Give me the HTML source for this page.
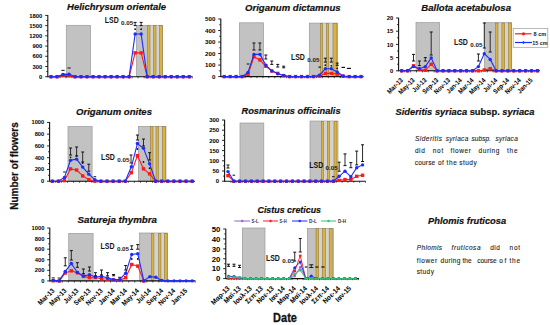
<!DOCTYPE html>
<html><head><meta charset="utf-8"><style>
html,body{margin:0;padding:0;background:#fff;width:550px;height:325px;overflow:hidden}
svg{display:block;font-family:"Liberation Sans", sans-serif}
</style></head><body>
<svg width="550" height="325" viewBox="0 0 550 325">
<rect width="550" height="325" fill="#fff"/>
<text x="67.1" y="10.3" font-size="9.8" font-weight="bold" font-style="italic" text-anchor="start" fill="#111" textLength="99" lengthAdjust="spacingAndGlyphs" stroke="#111" stroke-width="0.2">Helichrysum orientale</text>
<rect x="66.3" y="25.3" width="24.2" height="51.4" fill="#c2c2c2" stroke="#9a9a9a" stroke-width="0.7"/>
<rect x="136.3" y="25.3" width="26.3" height="51.4" fill="#c2c2c2" stroke="#9a9a9a" stroke-width="0.7"/>
<rect x="147.4" y="25.7" width="14.9" height="51" fill="#d2d2d2"/>
<rect x="147.4" y="25.6" width="2.6" height="51.1" fill="#d9b243" stroke="#8f7530" stroke-width="0.55"/>
<rect x="153.4" y="25.6" width="2.6" height="51.1" fill="#d9b243" stroke="#8f7530" stroke-width="0.55"/>
<rect x="159.5" y="25.6" width="2.9" height="51.1" fill="#d9b243" stroke="#8f7530" stroke-width="0.55"/>
<line x1="47.8" y1="15.1" x2="47.8" y2="77.2" stroke="#111" stroke-width="1.1"/>
<line x1="45.2" y1="76.7" x2="47.8" y2="76.7" stroke="#111" stroke-width="0.9"/>
<text x="42.4" y="78.82" font-size="5.9" font-weight="bold" font-style="normal" text-anchor="end" fill="#000">0</text>
<line x1="46.2" y1="71.59" x2="47.8" y2="71.59" stroke="#111" stroke-width="0.8"/>
<line x1="45.2" y1="66.48" x2="47.8" y2="66.48" stroke="#111" stroke-width="0.9"/>
<text x="42.4" y="68.61" font-size="5.9" font-weight="bold" font-style="normal" text-anchor="end" fill="#000">300</text>
<line x1="46.2" y1="61.38" x2="47.8" y2="61.38" stroke="#111" stroke-width="0.8"/>
<line x1="45.2" y1="56.27" x2="47.8" y2="56.27" stroke="#111" stroke-width="0.9"/>
<text x="42.4" y="58.39" font-size="5.9" font-weight="bold" font-style="normal" text-anchor="end" fill="#000">600</text>
<line x1="46.2" y1="51.16" x2="47.8" y2="51.16" stroke="#111" stroke-width="0.8"/>
<line x1="45.2" y1="46.05" x2="47.8" y2="46.05" stroke="#111" stroke-width="0.9"/>
<text x="42.4" y="48.17" font-size="5.9" font-weight="bold" font-style="normal" text-anchor="end" fill="#000">900</text>
<line x1="46.2" y1="40.94" x2="47.8" y2="40.94" stroke="#111" stroke-width="0.8"/>
<line x1="45.2" y1="35.83" x2="47.8" y2="35.83" stroke="#111" stroke-width="0.9"/>
<text x="42.4" y="37.96" font-size="5.9" font-weight="bold" font-style="normal" text-anchor="end" fill="#000">1200</text>
<line x1="46.2" y1="30.73" x2="47.8" y2="30.73" stroke="#111" stroke-width="0.8"/>
<line x1="45.2" y1="25.62" x2="47.8" y2="25.62" stroke="#111" stroke-width="0.9"/>
<text x="42.4" y="27.74" font-size="5.9" font-weight="bold" font-style="normal" text-anchor="end" fill="#000">1500</text>
<line x1="46.2" y1="20.51" x2="47.8" y2="20.51" stroke="#111" stroke-width="0.8"/>
<line x1="45.2" y1="15.4" x2="47.8" y2="15.4" stroke="#111" stroke-width="0.9"/>
<text x="42.4" y="17.52" font-size="5.9" font-weight="bold" font-style="normal" text-anchor="end" fill="#000">1800</text>
<line x1="47.8" y1="76.7" x2="192.5" y2="76.7" stroke="#111" stroke-width="1.1"/>
<line x1="54.01" y1="76.7" x2="54.01" y2="78.3" stroke="#111" stroke-width="0.7"/>
<line x1="60.02" y1="76.7" x2="60.02" y2="78.3" stroke="#111" stroke-width="0.7"/>
<line x1="66.02" y1="76.7" x2="66.02" y2="78.3" stroke="#111" stroke-width="0.7"/>
<line x1="72.03" y1="76.7" x2="72.03" y2="78.3" stroke="#111" stroke-width="0.7"/>
<line x1="78.04" y1="76.7" x2="78.04" y2="78.3" stroke="#111" stroke-width="0.7"/>
<line x1="84.05" y1="76.7" x2="84.05" y2="78.3" stroke="#111" stroke-width="0.7"/>
<line x1="90.06" y1="76.7" x2="90.06" y2="78.3" stroke="#111" stroke-width="0.7"/>
<line x1="96.07" y1="76.7" x2="96.07" y2="78.3" stroke="#111" stroke-width="0.7"/>
<line x1="102.08" y1="76.7" x2="102.08" y2="78.3" stroke="#111" stroke-width="0.7"/>
<line x1="108.09" y1="76.7" x2="108.09" y2="78.3" stroke="#111" stroke-width="0.7"/>
<line x1="114.1" y1="76.7" x2="114.1" y2="78.3" stroke="#111" stroke-width="0.7"/>
<line x1="120.11" y1="76.7" x2="120.11" y2="78.3" stroke="#111" stroke-width="0.7"/>
<line x1="126.12" y1="76.7" x2="126.12" y2="78.3" stroke="#111" stroke-width="0.7"/>
<line x1="132.13" y1="76.7" x2="132.13" y2="78.3" stroke="#111" stroke-width="0.7"/>
<line x1="138.14" y1="76.7" x2="138.14" y2="78.3" stroke="#111" stroke-width="0.7"/>
<line x1="144.15" y1="76.7" x2="144.15" y2="78.3" stroke="#111" stroke-width="0.7"/>
<line x1="150.16" y1="76.7" x2="150.16" y2="78.3" stroke="#111" stroke-width="0.7"/>
<line x1="156.18" y1="76.7" x2="156.18" y2="78.3" stroke="#111" stroke-width="0.7"/>
<line x1="162.19" y1="76.7" x2="162.19" y2="78.3" stroke="#111" stroke-width="0.7"/>
<line x1="168.19" y1="76.7" x2="168.19" y2="78.3" stroke="#111" stroke-width="0.7"/>
<line x1="174.2" y1="76.7" x2="174.2" y2="78.3" stroke="#111" stroke-width="0.7"/>
<line x1="180.21" y1="76.7" x2="180.21" y2="78.3" stroke="#111" stroke-width="0.7"/>
<line x1="186.22" y1="76.7" x2="186.22" y2="78.3" stroke="#111" stroke-width="0.7"/>
<line x1="192.23" y1="76.7" x2="192.23" y2="78.3" stroke="#111" stroke-width="0.7"/>
<polyline points="51,76.7 57.01,76.7 63.02,75.17 69.03,75.68 75.04,76.7 81.05,76.7 87.06,76.7 93.07,76.7 99.08,76.7 105.09,76.7 111.1,76.7 117.11,76.7 123.12,76.7 129.13,76.7 135.14,52.86 141.15,52.86 147.16,76.7 153.17,76.7 159.18,76.7 165.19,76.7 171.2,76.7 177.21,76.7 183.22,76.7 189.23,76.7" fill="none" stroke="#ff1a1a" stroke-width="1.1"/>
<rect x="49.3" y="75" width="3.4" height="3.4" fill="#ff1a1a"/>
<rect x="55.31" y="75" width="3.4" height="3.4" fill="#ff1a1a"/>
<rect x="61.32" y="73.47" width="3.4" height="3.4" fill="#ff1a1a"/>
<rect x="67.33" y="73.98" width="3.4" height="3.4" fill="#ff1a1a"/>
<rect x="73.34" y="75" width="3.4" height="3.4" fill="#ff1a1a"/>
<rect x="79.35" y="75" width="3.4" height="3.4" fill="#ff1a1a"/>
<rect x="85.36" y="75" width="3.4" height="3.4" fill="#ff1a1a"/>
<rect x="91.37" y="75" width="3.4" height="3.4" fill="#ff1a1a"/>
<rect x="97.38" y="75" width="3.4" height="3.4" fill="#ff1a1a"/>
<rect x="103.39" y="75" width="3.4" height="3.4" fill="#ff1a1a"/>
<rect x="109.4" y="75" width="3.4" height="3.4" fill="#ff1a1a"/>
<rect x="115.41" y="75" width="3.4" height="3.4" fill="#ff1a1a"/>
<rect x="121.42" y="75" width="3.4" height="3.4" fill="#ff1a1a"/>
<rect x="127.43" y="75" width="3.4" height="3.4" fill="#ff1a1a"/>
<rect x="133.44" y="51.16" width="3.4" height="3.4" fill="#ff1a1a"/>
<rect x="139.45" y="51.16" width="3.4" height="3.4" fill="#ff1a1a"/>
<rect x="145.46" y="75" width="3.4" height="3.4" fill="#ff1a1a"/>
<rect x="151.47" y="75" width="3.4" height="3.4" fill="#ff1a1a"/>
<rect x="157.48" y="75" width="3.4" height="3.4" fill="#ff1a1a"/>
<rect x="163.49" y="75" width="3.4" height="3.4" fill="#ff1a1a"/>
<rect x="169.5" y="75" width="3.4" height="3.4" fill="#ff1a1a"/>
<rect x="175.51" y="75" width="3.4" height="3.4" fill="#ff1a1a"/>
<rect x="181.52" y="75" width="3.4" height="3.4" fill="#ff1a1a"/>
<rect x="187.53" y="75" width="3.4" height="3.4" fill="#ff1a1a"/>
<polyline points="51,76.7 57.01,76.7 63.02,74.38 69.03,74.15 75.04,76.7 81.05,76.7 87.06,76.7 93.07,76.7 99.08,76.7 105.09,76.7 111.1,76.7 117.11,76.7 123.12,76.7 129.13,76.7 135.14,33.96 141.15,33.96 147.16,76.7 153.17,76.7 159.18,76.7 165.19,76.7 171.2,76.7 177.21,76.7 183.22,76.7 189.23,76.7" fill="none" stroke="#1a2cff" stroke-width="1.1"/>
<circle cx="51" cy="76.7" r="1.7" fill="#1a2cff"/>
<circle cx="57.01" cy="76.7" r="1.7" fill="#1a2cff"/>
<circle cx="63.02" cy="74.38" r="1.7" fill="#1a2cff"/>
<circle cx="69.03" cy="74.15" r="1.7" fill="#1a2cff"/>
<circle cx="75.04" cy="76.7" r="1.7" fill="#1a2cff"/>
<circle cx="81.05" cy="76.7" r="1.7" fill="#1a2cff"/>
<circle cx="87.06" cy="76.7" r="1.7" fill="#1a2cff"/>
<circle cx="93.07" cy="76.7" r="1.7" fill="#1a2cff"/>
<circle cx="99.08" cy="76.7" r="1.7" fill="#1a2cff"/>
<circle cx="105.09" cy="76.7" r="1.7" fill="#1a2cff"/>
<circle cx="111.1" cy="76.7" r="1.7" fill="#1a2cff"/>
<circle cx="117.11" cy="76.7" r="1.7" fill="#1a2cff"/>
<circle cx="123.12" cy="76.7" r="1.7" fill="#1a2cff"/>
<circle cx="129.13" cy="76.7" r="1.7" fill="#1a2cff"/>
<circle cx="135.14" cy="33.96" r="1.7" fill="#1a2cff"/>
<circle cx="141.15" cy="33.96" r="1.7" fill="#1a2cff"/>
<circle cx="147.16" cy="76.7" r="1.7" fill="#1a2cff"/>
<circle cx="153.17" cy="76.7" r="1.7" fill="#1a2cff"/>
<circle cx="159.18" cy="76.7" r="1.7" fill="#1a2cff"/>
<circle cx="165.19" cy="76.7" r="1.7" fill="#1a2cff"/>
<circle cx="171.2" cy="76.7" r="1.7" fill="#1a2cff"/>
<circle cx="177.21" cy="76.7" r="1.7" fill="#1a2cff"/>
<circle cx="183.22" cy="76.7" r="1.7" fill="#1a2cff"/>
<circle cx="189.23" cy="76.7" r="1.7" fill="#1a2cff"/>
<line x1="61.42" y1="70.4" x2="64.62" y2="70.4" stroke="#222" stroke-width="1.1"/>
<line x1="67.43" y1="68" x2="70.63" y2="68" stroke="#222" stroke-width="1.1"/>
<line x1="135.14" y1="22.4" x2="135.14" y2="25.6" stroke="#2a2a2a" stroke-width="1"/>
<line x1="133.64" y1="22.4" x2="136.64" y2="22.4" stroke="#111" stroke-width="1"/>
<line x1="133.64" y1="25.6" x2="136.64" y2="25.6" stroke="#111" stroke-width="1"/>
<line x1="141.15" y1="22.4" x2="141.15" y2="25.6" stroke="#2a2a2a" stroke-width="1"/>
<line x1="139.65" y1="22.4" x2="142.65" y2="22.4" stroke="#111" stroke-width="1"/>
<line x1="139.65" y1="25.6" x2="142.65" y2="25.6" stroke="#111" stroke-width="1"/>
<circle cx="135.14" cy="29.2" r="0.9" fill="#111"/>
<circle cx="141.15" cy="29.2" r="0.9" fill="#111"/>
<text x="104.7" y="23.2" font-size="8.3" font-weight="bold" font-style="normal" text-anchor="start" fill="#111" textLength="14" lengthAdjust="spacingAndGlyphs">LSD</text>
<text x="121.1" y="25.4" font-size="5.9" font-weight="bold" font-style="normal" text-anchor="start" fill="#1a1a1a" textLength="12.2" lengthAdjust="spacingAndGlyphs">0.05</text>
<text x="245" y="10.8" font-size="9.8" font-weight="bold" font-style="italic" text-anchor="start" fill="#111" textLength="95.6" lengthAdjust="spacingAndGlyphs" stroke="#111" stroke-width="0.2">Origanum dictamnus</text>
<rect x="239.4" y="22.8" width="24.2" height="53.8" fill="#c2c2c2" stroke="#9a9a9a" stroke-width="0.7"/>
<rect x="309.3" y="23.1" width="28.3" height="53.5" fill="#c2c2c2" stroke="#9a9a9a" stroke-width="0.7"/>
<rect x="320.5" y="23.5" width="16.8" height="53.1" fill="#d2d2d2"/>
<rect x="320.5" y="23.4" width="2.1" height="53.2" fill="#d9b243" stroke="#8f7530" stroke-width="0.55"/>
<rect x="326.5" y="23.4" width="2.1" height="53.2" fill="#d9b243" stroke="#8f7530" stroke-width="0.55"/>
<rect x="333" y="23.4" width="4" height="53.2" fill="#d9b243" stroke="#8f7530" stroke-width="0.55"/>
<line x1="220.8" y1="18.7" x2="220.8" y2="77.1" stroke="#111" stroke-width="1.1"/>
<line x1="218.2" y1="76.6" x2="220.8" y2="76.6" stroke="#111" stroke-width="0.9"/>
<text x="215.4" y="78.83" font-size="6.2" font-weight="bold" font-style="normal" text-anchor="end" fill="#000">0</text>
<line x1="219.2" y1="70.84" x2="220.8" y2="70.84" stroke="#111" stroke-width="0.8"/>
<line x1="218.2" y1="65.08" x2="220.8" y2="65.08" stroke="#111" stroke-width="0.9"/>
<text x="215.4" y="67.31" font-size="6.2" font-weight="bold" font-style="normal" text-anchor="end" fill="#000">100</text>
<line x1="219.2" y1="59.32" x2="220.8" y2="59.32" stroke="#111" stroke-width="0.8"/>
<line x1="218.2" y1="53.56" x2="220.8" y2="53.56" stroke="#111" stroke-width="0.9"/>
<text x="215.4" y="55.79" font-size="6.2" font-weight="bold" font-style="normal" text-anchor="end" fill="#000">200</text>
<line x1="219.2" y1="47.8" x2="220.8" y2="47.8" stroke="#111" stroke-width="0.8"/>
<line x1="218.2" y1="42.04" x2="220.8" y2="42.04" stroke="#111" stroke-width="0.9"/>
<text x="215.4" y="44.27" font-size="6.2" font-weight="bold" font-style="normal" text-anchor="end" fill="#000">300</text>
<line x1="219.2" y1="36.28" x2="220.8" y2="36.28" stroke="#111" stroke-width="0.8"/>
<line x1="218.2" y1="30.52" x2="220.8" y2="30.52" stroke="#111" stroke-width="0.9"/>
<text x="215.4" y="32.75" font-size="6.2" font-weight="bold" font-style="normal" text-anchor="end" fill="#000">400</text>
<line x1="219.2" y1="24.76" x2="220.8" y2="24.76" stroke="#111" stroke-width="0.8"/>
<line x1="218.2" y1="19" x2="220.8" y2="19" stroke="#111" stroke-width="0.9"/>
<text x="215.4" y="21.23" font-size="6.2" font-weight="bold" font-style="normal" text-anchor="end" fill="#000">500</text>
<line x1="220.8" y1="76.6" x2="363.6" y2="76.6" stroke="#111" stroke-width="1.1"/>
<line x1="227.17" y1="76.6" x2="227.17" y2="78.2" stroke="#111" stroke-width="0.7"/>
<line x1="233.12" y1="76.6" x2="233.12" y2="78.2" stroke="#111" stroke-width="0.7"/>
<line x1="239.07" y1="76.6" x2="239.07" y2="78.2" stroke="#111" stroke-width="0.7"/>
<line x1="245.02" y1="76.6" x2="245.02" y2="78.2" stroke="#111" stroke-width="0.7"/>
<line x1="250.97" y1="76.6" x2="250.97" y2="78.2" stroke="#111" stroke-width="0.7"/>
<line x1="256.93" y1="76.6" x2="256.93" y2="78.2" stroke="#111" stroke-width="0.7"/>
<line x1="262.88" y1="76.6" x2="262.88" y2="78.2" stroke="#111" stroke-width="0.7"/>
<line x1="268.82" y1="76.6" x2="268.82" y2="78.2" stroke="#111" stroke-width="0.7"/>
<line x1="274.78" y1="76.6" x2="274.78" y2="78.2" stroke="#111" stroke-width="0.7"/>
<line x1="280.73" y1="76.6" x2="280.73" y2="78.2" stroke="#111" stroke-width="0.7"/>
<line x1="286.68" y1="76.6" x2="286.68" y2="78.2" stroke="#111" stroke-width="0.7"/>
<line x1="292.62" y1="76.6" x2="292.62" y2="78.2" stroke="#111" stroke-width="0.7"/>
<line x1="298.58" y1="76.6" x2="298.58" y2="78.2" stroke="#111" stroke-width="0.7"/>
<line x1="304.53" y1="76.6" x2="304.53" y2="78.2" stroke="#111" stroke-width="0.7"/>
<line x1="310.48" y1="76.6" x2="310.48" y2="78.2" stroke="#111" stroke-width="0.7"/>
<line x1="316.43" y1="76.6" x2="316.43" y2="78.2" stroke="#111" stroke-width="0.7"/>
<line x1="322.38" y1="76.6" x2="322.38" y2="78.2" stroke="#111" stroke-width="0.7"/>
<line x1="328.33" y1="76.6" x2="328.33" y2="78.2" stroke="#111" stroke-width="0.7"/>
<line x1="334.28" y1="76.6" x2="334.28" y2="78.2" stroke="#111" stroke-width="0.7"/>
<line x1="340.23" y1="76.6" x2="340.23" y2="78.2" stroke="#111" stroke-width="0.7"/>
<line x1="346.18" y1="76.6" x2="346.18" y2="78.2" stroke="#111" stroke-width="0.7"/>
<line x1="352.12" y1="76.6" x2="352.12" y2="78.2" stroke="#111" stroke-width="0.7"/>
<line x1="358.08" y1="76.6" x2="358.08" y2="78.2" stroke="#111" stroke-width="0.7"/>
<polyline points="224.2,76.6 230.15,76.6 236.1,76.6 242.05,76.6 248,74.3 253.95,56.79 259.9,59.9 265.85,66.23 271.8,71.07 277.75,73.37 283.7,75.68 289.65,76.6 295.6,76.6 301.55,76.6 307.5,76.6 313.45,76.6 319.4,76.14 325.35,73.37 331.3,73.37 337.25,74.07 343.2,76.25 349.15,76.6 355.1,76.6 361.05,76.6" fill="none" stroke="#ff1a1a" stroke-width="1.1"/>
<rect x="222.5" y="74.9" width="3.4" height="3.4" fill="#ff1a1a"/>
<rect x="228.45" y="74.9" width="3.4" height="3.4" fill="#ff1a1a"/>
<rect x="234.4" y="74.9" width="3.4" height="3.4" fill="#ff1a1a"/>
<rect x="240.35" y="74.9" width="3.4" height="3.4" fill="#ff1a1a"/>
<rect x="246.3" y="72.6" width="3.4" height="3.4" fill="#ff1a1a"/>
<rect x="252.25" y="55.09" width="3.4" height="3.4" fill="#ff1a1a"/>
<rect x="258.2" y="58.2" width="3.4" height="3.4" fill="#ff1a1a"/>
<rect x="264.15" y="64.53" width="3.4" height="3.4" fill="#ff1a1a"/>
<rect x="270.1" y="69.37" width="3.4" height="3.4" fill="#ff1a1a"/>
<rect x="276.05" y="71.67" width="3.4" height="3.4" fill="#ff1a1a"/>
<rect x="282" y="73.98" width="3.4" height="3.4" fill="#ff1a1a"/>
<rect x="287.95" y="74.9" width="3.4" height="3.4" fill="#ff1a1a"/>
<rect x="293.9" y="74.9" width="3.4" height="3.4" fill="#ff1a1a"/>
<rect x="299.85" y="74.9" width="3.4" height="3.4" fill="#ff1a1a"/>
<rect x="305.8" y="74.9" width="3.4" height="3.4" fill="#ff1a1a"/>
<rect x="311.75" y="74.9" width="3.4" height="3.4" fill="#ff1a1a"/>
<rect x="317.7" y="74.44" width="3.4" height="3.4" fill="#ff1a1a"/>
<rect x="323.65" y="71.67" width="3.4" height="3.4" fill="#ff1a1a"/>
<rect x="329.6" y="71.67" width="3.4" height="3.4" fill="#ff1a1a"/>
<rect x="335.55" y="72.37" width="3.4" height="3.4" fill="#ff1a1a"/>
<rect x="341.5" y="74.55" width="3.4" height="3.4" fill="#ff1a1a"/>
<rect x="347.45" y="74.9" width="3.4" height="3.4" fill="#ff1a1a"/>
<rect x="353.4" y="74.9" width="3.4" height="3.4" fill="#ff1a1a"/>
<rect x="359.35" y="74.9" width="3.4" height="3.4" fill="#ff1a1a"/>
<polyline points="224.2,76.6 230.15,76.6 236.1,76.6 242.05,76.6 248,72.34 253.95,54.37 259.9,54.37 265.85,65.08 271.8,70.84 277.75,73.72 283.7,75.56 289.65,76.6 295.6,76.6 301.55,76.6 307.5,76.6 313.45,76.6 319.4,75.22 325.35,68.77 331.3,68.77 337.25,71.99 343.2,76.02 349.15,76.6 355.1,76.6 361.05,76.6" fill="none" stroke="#1a2cff" stroke-width="1.1"/>
<circle cx="224.2" cy="76.6" r="1.7" fill="#1a2cff"/>
<circle cx="230.15" cy="76.6" r="1.7" fill="#1a2cff"/>
<circle cx="236.1" cy="76.6" r="1.7" fill="#1a2cff"/>
<circle cx="242.05" cy="76.6" r="1.7" fill="#1a2cff"/>
<circle cx="248" cy="72.34" r="1.7" fill="#1a2cff"/>
<circle cx="253.95" cy="54.37" r="1.7" fill="#1a2cff"/>
<circle cx="259.9" cy="54.37" r="1.7" fill="#1a2cff"/>
<circle cx="265.85" cy="65.08" r="1.7" fill="#1a2cff"/>
<circle cx="271.8" cy="70.84" r="1.7" fill="#1a2cff"/>
<circle cx="277.75" cy="73.72" r="1.7" fill="#1a2cff"/>
<circle cx="283.7" cy="75.56" r="1.7" fill="#1a2cff"/>
<circle cx="289.65" cy="76.6" r="1.7" fill="#1a2cff"/>
<circle cx="295.6" cy="76.6" r="1.7" fill="#1a2cff"/>
<circle cx="301.55" cy="76.6" r="1.7" fill="#1a2cff"/>
<circle cx="307.5" cy="76.6" r="1.7" fill="#1a2cff"/>
<circle cx="313.45" cy="76.6" r="1.7" fill="#1a2cff"/>
<circle cx="319.4" cy="75.22" r="1.7" fill="#1a2cff"/>
<circle cx="325.35" cy="68.77" r="1.7" fill="#1a2cff"/>
<circle cx="331.3" cy="68.77" r="1.7" fill="#1a2cff"/>
<circle cx="337.25" cy="71.99" r="1.7" fill="#1a2cff"/>
<circle cx="343.2" cy="76.02" r="1.7" fill="#1a2cff"/>
<circle cx="349.15" cy="76.6" r="1.7" fill="#1a2cff"/>
<circle cx="355.1" cy="76.6" r="1.7" fill="#1a2cff"/>
<circle cx="361.05" cy="76.6" r="1.7" fill="#1a2cff"/>
<line x1="246.6" y1="64" x2="249.4" y2="64" stroke="#222" stroke-width="1.1"/>
<line x1="253.95" y1="43" x2="253.95" y2="50" stroke="#2a2a2a" stroke-width="1"/>
<line x1="252.45" y1="43" x2="255.45" y2="43" stroke="#111" stroke-width="1"/>
<line x1="252.45" y1="50" x2="255.45" y2="50" stroke="#111" stroke-width="1"/>
<line x1="259.9" y1="43" x2="259.9" y2="50" stroke="#2a2a2a" stroke-width="1"/>
<line x1="258.4" y1="43" x2="261.4" y2="43" stroke="#111" stroke-width="1"/>
<line x1="258.4" y1="50" x2="261.4" y2="50" stroke="#111" stroke-width="1"/>
<line x1="265.85" y1="55" x2="265.85" y2="59" stroke="#2a2a2a" stroke-width="1"/>
<line x1="264.35" y1="55" x2="267.35" y2="55" stroke="#111" stroke-width="1"/>
<line x1="264.35" y1="59" x2="267.35" y2="59" stroke="#111" stroke-width="1"/>
<line x1="271.8" y1="61" x2="271.8" y2="64.4" stroke="#2a2a2a" stroke-width="1"/>
<line x1="270.3" y1="61" x2="273.3" y2="61" stroke="#111" stroke-width="1"/>
<line x1="270.3" y1="64.4" x2="273.3" y2="64.4" stroke="#111" stroke-width="1"/>
<line x1="277.75" y1="64.4" x2="277.75" y2="67" stroke="#2a2a2a" stroke-width="1"/>
<line x1="276.25" y1="64.4" x2="279.25" y2="64.4" stroke="#111" stroke-width="1"/>
<line x1="276.25" y1="67" x2="279.25" y2="67" stroke="#111" stroke-width="1"/>
<line x1="283.7" y1="66.2" x2="283.7" y2="67.8" stroke="#2a2a2a" stroke-width="1"/>
<line x1="282.2" y1="66.2" x2="285.2" y2="66.2" stroke="#111" stroke-width="1"/>
<line x1="282.2" y1="67.8" x2="285.2" y2="67.8" stroke="#111" stroke-width="1"/>
<line x1="318.4" y1="67.1" x2="320.8" y2="67.1" stroke="#111" stroke-width="1.2"/>
<line x1="325.35" y1="58.2" x2="325.35" y2="62.1" stroke="#2a2a2a" stroke-width="1"/>
<line x1="323.85" y1="58.2" x2="326.85" y2="58.2" stroke="#111" stroke-width="1"/>
<line x1="323.85" y1="62.1" x2="326.85" y2="62.1" stroke="#111" stroke-width="1"/>
<line x1="331.3" y1="58.2" x2="331.3" y2="62.1" stroke="#2a2a2a" stroke-width="1"/>
<line x1="329.8" y1="58.2" x2="332.8" y2="58.2" stroke="#111" stroke-width="1"/>
<line x1="329.8" y1="62.1" x2="332.8" y2="62.1" stroke="#111" stroke-width="1"/>
<line x1="337.25" y1="63.1" x2="337.25" y2="65.3" stroke="#2a2a2a" stroke-width="1"/>
<line x1="335.75" y1="63.1" x2="338.75" y2="63.1" stroke="#111" stroke-width="1"/>
<line x1="335.75" y1="65.3" x2="338.75" y2="65.3" stroke="#111" stroke-width="1"/>
<line x1="341.5" y1="67.4" x2="345" y2="67.4" stroke="#111" stroke-width="1.2"/>
<line x1="346.9" y1="68.4" x2="351" y2="68.4" stroke="#111" stroke-width="1.2"/>
<circle cx="325.35" cy="65.2" r="0.9" fill="#111"/>
<circle cx="331.3" cy="65.8" r="0.9" fill="#111"/>
<circle cx="337.25" cy="68.3" r="0.9" fill="#111"/>
<text x="290.9" y="60.1" font-size="8.3" font-weight="bold" font-style="normal" text-anchor="start" fill="#111" textLength="14" lengthAdjust="spacingAndGlyphs">LSD</text>
<text x="307.3" y="62.3" font-size="5.9" font-weight="bold" font-style="normal" text-anchor="start" fill="#1a1a1a" textLength="12.2" lengthAdjust="spacingAndGlyphs">0.05</text>
<text x="421.3" y="10.8" font-size="9.8" font-weight="bold" font-style="italic" text-anchor="start" fill="#111" textLength="89.7" lengthAdjust="spacingAndGlyphs" stroke="#111" stroke-width="0.2">Ballota acetabulosa</text>
<rect x="416" y="22.6" width="23.6" height="48.2" fill="#c2c2c2" stroke="#9a9a9a" stroke-width="0.7"/>
<rect x="484.3" y="22.7" width="27.4" height="48.1" fill="#c2c2c2" stroke="#9a9a9a" stroke-width="0.7"/>
<rect x="495.4" y="23.1" width="16" height="47.7" fill="#d2d2d2"/>
<rect x="495.4" y="23" width="2.6" height="47.8" fill="#d9b243" stroke="#8f7530" stroke-width="0.55"/>
<rect x="501.9" y="23" width="2.7" height="47.8" fill="#d9b243" stroke="#8f7530" stroke-width="0.55"/>
<rect x="508.5" y="23" width="3" height="47.8" fill="#d9b243" stroke="#8f7530" stroke-width="0.55"/>
<line x1="398.6" y1="17.7" x2="398.6" y2="71.3" stroke="#111" stroke-width="1.1"/>
<line x1="396" y1="70.8" x2="398.6" y2="70.8" stroke="#111" stroke-width="0.9"/>
<text x="393.2" y="72.92" font-size="5.9" font-weight="bold" font-style="normal" text-anchor="end" fill="#000">0</text>
<line x1="397" y1="64.2" x2="398.6" y2="64.2" stroke="#111" stroke-width="0.8"/>
<line x1="396" y1="57.6" x2="398.6" y2="57.6" stroke="#111" stroke-width="0.9"/>
<text x="393.2" y="59.72" font-size="5.9" font-weight="bold" font-style="normal" text-anchor="end" fill="#000">5</text>
<line x1="397" y1="51" x2="398.6" y2="51" stroke="#111" stroke-width="0.8"/>
<line x1="396" y1="44.4" x2="398.6" y2="44.4" stroke="#111" stroke-width="0.9"/>
<text x="393.2" y="46.52" font-size="5.9" font-weight="bold" font-style="normal" text-anchor="end" fill="#000">10</text>
<line x1="397" y1="37.8" x2="398.6" y2="37.8" stroke="#111" stroke-width="0.8"/>
<line x1="396" y1="31.2" x2="398.6" y2="31.2" stroke="#111" stroke-width="0.9"/>
<text x="393.2" y="33.32" font-size="5.9" font-weight="bold" font-style="normal" text-anchor="end" fill="#000">15</text>
<line x1="397" y1="24.6" x2="398.6" y2="24.6" stroke="#111" stroke-width="0.8"/>
<line x1="396" y1="18" x2="398.6" y2="18" stroke="#111" stroke-width="0.9"/>
<text x="393.2" y="20.12" font-size="5.9" font-weight="bold" font-style="normal" text-anchor="end" fill="#000">20</text>
<line x1="398.6" y1="70.8" x2="540" y2="70.8" stroke="#111" stroke-width="1.1"/>
<line x1="404.65" y1="70.8" x2="404.65" y2="72.4" stroke="#111" stroke-width="0.7"/>
<line x1="410.55" y1="70.8" x2="410.55" y2="72.4" stroke="#111" stroke-width="0.7"/>
<line x1="416.45" y1="70.8" x2="416.45" y2="72.4" stroke="#111" stroke-width="0.7"/>
<line x1="422.35" y1="70.8" x2="422.35" y2="72.4" stroke="#111" stroke-width="0.7"/>
<line x1="428.25" y1="70.8" x2="428.25" y2="72.4" stroke="#111" stroke-width="0.7"/>
<line x1="434.15" y1="70.8" x2="434.15" y2="72.4" stroke="#111" stroke-width="0.7"/>
<line x1="440.05" y1="70.8" x2="440.05" y2="72.4" stroke="#111" stroke-width="0.7"/>
<line x1="445.95" y1="70.8" x2="445.95" y2="72.4" stroke="#111" stroke-width="0.7"/>
<line x1="451.85" y1="70.8" x2="451.85" y2="72.4" stroke="#111" stroke-width="0.7"/>
<line x1="457.75" y1="70.8" x2="457.75" y2="72.4" stroke="#111" stroke-width="0.7"/>
<line x1="463.65" y1="70.8" x2="463.65" y2="72.4" stroke="#111" stroke-width="0.7"/>
<line x1="469.55" y1="70.8" x2="469.55" y2="72.4" stroke="#111" stroke-width="0.7"/>
<line x1="475.45" y1="70.8" x2="475.45" y2="72.4" stroke="#111" stroke-width="0.7"/>
<line x1="481.35" y1="70.8" x2="481.35" y2="72.4" stroke="#111" stroke-width="0.7"/>
<line x1="487.25" y1="70.8" x2="487.25" y2="72.4" stroke="#111" stroke-width="0.7"/>
<line x1="493.15" y1="70.8" x2="493.15" y2="72.4" stroke="#111" stroke-width="0.7"/>
<line x1="499.05" y1="70.8" x2="499.05" y2="72.4" stroke="#111" stroke-width="0.7"/>
<line x1="504.95" y1="70.8" x2="504.95" y2="72.4" stroke="#111" stroke-width="0.7"/>
<line x1="510.85" y1="70.8" x2="510.85" y2="72.4" stroke="#111" stroke-width="0.7"/>
<line x1="516.75" y1="70.8" x2="516.75" y2="72.4" stroke="#111" stroke-width="0.7"/>
<line x1="522.65" y1="70.8" x2="522.65" y2="72.4" stroke="#111" stroke-width="0.7"/>
<line x1="528.55" y1="70.8" x2="528.55" y2="72.4" stroke="#111" stroke-width="0.7"/>
<line x1="534.45" y1="70.8" x2="534.45" y2="72.4" stroke="#111" stroke-width="0.7"/>
<polyline points="401.7,70.8 407.6,70.8 413.5,65.78 419.4,69.48 425.3,70.27 431.2,64.2 437.1,70.8 443,70.8 448.9,70.8 454.8,70.8 460.7,70.8 466.6,70.8 472.5,70.8 478.4,70.8 484.3,70.01 490.2,68.69 496.1,70.8 502,70.8 507.9,70.8 513.8,70.8 519.7,70.8 525.6,70.8 531.5,70.8 537.4,70.8" fill="none" stroke="#ff1a1a" stroke-width="1.1"/>
<rect x="400" y="69.1" width="3.4" height="3.4" fill="#ff1a1a"/>
<rect x="405.9" y="69.1" width="3.4" height="3.4" fill="#ff1a1a"/>
<rect x="411.8" y="64.08" width="3.4" height="3.4" fill="#ff1a1a"/>
<rect x="417.7" y="67.78" width="3.4" height="3.4" fill="#ff1a1a"/>
<rect x="423.6" y="68.57" width="3.4" height="3.4" fill="#ff1a1a"/>
<rect x="429.5" y="62.5" width="3.4" height="3.4" fill="#ff1a1a"/>
<rect x="435.4" y="69.1" width="3.4" height="3.4" fill="#ff1a1a"/>
<rect x="441.3" y="69.1" width="3.4" height="3.4" fill="#ff1a1a"/>
<rect x="447.2" y="69.1" width="3.4" height="3.4" fill="#ff1a1a"/>
<rect x="453.1" y="69.1" width="3.4" height="3.4" fill="#ff1a1a"/>
<rect x="459" y="69.1" width="3.4" height="3.4" fill="#ff1a1a"/>
<rect x="464.9" y="69.1" width="3.4" height="3.4" fill="#ff1a1a"/>
<rect x="470.8" y="69.1" width="3.4" height="3.4" fill="#ff1a1a"/>
<rect x="476.7" y="69.1" width="3.4" height="3.4" fill="#ff1a1a"/>
<rect x="482.6" y="68.31" width="3.4" height="3.4" fill="#ff1a1a"/>
<rect x="488.5" y="66.99" width="3.4" height="3.4" fill="#ff1a1a"/>
<rect x="494.4" y="69.1" width="3.4" height="3.4" fill="#ff1a1a"/>
<rect x="500.3" y="69.1" width="3.4" height="3.4" fill="#ff1a1a"/>
<rect x="506.2" y="69.1" width="3.4" height="3.4" fill="#ff1a1a"/>
<rect x="512.1" y="69.1" width="3.4" height="3.4" fill="#ff1a1a"/>
<rect x="518" y="69.1" width="3.4" height="3.4" fill="#ff1a1a"/>
<rect x="523.9" y="69.1" width="3.4" height="3.4" fill="#ff1a1a"/>
<rect x="529.8" y="69.1" width="3.4" height="3.4" fill="#ff1a1a"/>
<rect x="535.7" y="69.1" width="3.4" height="3.4" fill="#ff1a1a"/>
<polyline points="401.7,70.8 407.6,70.8 413.5,66.58 419.4,68.69 425.3,66.58 431.2,57.86 437.1,70.8 443,70.8 448.9,70.8 454.8,70.8 460.7,70.8 466.6,70.8 472.5,70.8 478.4,66.58 484.3,53.64 490.2,59.45 496.1,70.8 502,70.8 507.9,70.8 513.8,70.8 519.7,70.8 525.6,70.8 531.5,70.8 537.4,70.8" fill="none" stroke="#1a2cff" stroke-width="1.1"/>
<circle cx="401.7" cy="70.8" r="1.7" fill="#1a2cff"/>
<circle cx="407.6" cy="70.8" r="1.7" fill="#1a2cff"/>
<circle cx="413.5" cy="66.58" r="1.7" fill="#1a2cff"/>
<circle cx="419.4" cy="68.69" r="1.7" fill="#1a2cff"/>
<circle cx="425.3" cy="66.58" r="1.7" fill="#1a2cff"/>
<circle cx="431.2" cy="57.86" r="1.7" fill="#1a2cff"/>
<circle cx="437.1" cy="70.8" r="1.7" fill="#1a2cff"/>
<circle cx="443" cy="70.8" r="1.7" fill="#1a2cff"/>
<circle cx="448.9" cy="70.8" r="1.7" fill="#1a2cff"/>
<circle cx="454.8" cy="70.8" r="1.7" fill="#1a2cff"/>
<circle cx="460.7" cy="70.8" r="1.7" fill="#1a2cff"/>
<circle cx="466.6" cy="70.8" r="1.7" fill="#1a2cff"/>
<circle cx="472.5" cy="70.8" r="1.7" fill="#1a2cff"/>
<circle cx="478.4" cy="66.58" r="1.7" fill="#1a2cff"/>
<circle cx="484.3" cy="53.64" r="1.7" fill="#1a2cff"/>
<circle cx="490.2" cy="59.45" r="1.7" fill="#1a2cff"/>
<circle cx="496.1" cy="70.8" r="1.7" fill="#1a2cff"/>
<circle cx="502" cy="70.8" r="1.7" fill="#1a2cff"/>
<circle cx="507.9" cy="70.8" r="1.7" fill="#1a2cff"/>
<circle cx="513.8" cy="70.8" r="1.7" fill="#1a2cff"/>
<circle cx="519.7" cy="70.8" r="1.7" fill="#1a2cff"/>
<circle cx="525.6" cy="70.8" r="1.7" fill="#1a2cff"/>
<circle cx="531.5" cy="70.8" r="1.7" fill="#1a2cff"/>
<circle cx="537.4" cy="70.8" r="1.7" fill="#1a2cff"/>
<line x1="413.5" y1="54.4" x2="413.5" y2="61" stroke="#2a2a2a" stroke-width="1"/>
<line x1="412" y1="54.4" x2="415" y2="54.4" stroke="#111" stroke-width="1"/>
<line x1="412" y1="61" x2="415" y2="61" stroke="#111" stroke-width="1"/>
<line x1="419.4" y1="61" x2="419.4" y2="65.6" stroke="#2a2a2a" stroke-width="1"/>
<line x1="417.9" y1="61" x2="420.9" y2="61" stroke="#111" stroke-width="1"/>
<line x1="417.9" y1="65.6" x2="420.9" y2="65.6" stroke="#111" stroke-width="1"/>
<line x1="425.3" y1="57.6" x2="425.3" y2="61" stroke="#2a2a2a" stroke-width="1"/>
<line x1="423.8" y1="57.6" x2="426.8" y2="57.6" stroke="#111" stroke-width="1"/>
<line x1="423.8" y1="61" x2="426.8" y2="61" stroke="#111" stroke-width="1"/>
<line x1="431.2" y1="32" x2="431.2" y2="55" stroke="#2a2a2a" stroke-width="1"/>
<line x1="429.7" y1="32" x2="432.7" y2="32" stroke="#111" stroke-width="1"/>
<line x1="429.7" y1="55" x2="432.7" y2="55" stroke="#111" stroke-width="1"/>
<line x1="478.4" y1="54" x2="478.4" y2="61" stroke="#2a2a2a" stroke-width="1"/>
<line x1="476.9" y1="54" x2="479.9" y2="54" stroke="#111" stroke-width="1"/>
<line x1="476.9" y1="61" x2="479.9" y2="61" stroke="#111" stroke-width="1"/>
<line x1="484.3" y1="23" x2="484.3" y2="48" stroke="#2a2a2a" stroke-width="1"/>
<line x1="482.8" y1="23" x2="485.8" y2="23" stroke="#111" stroke-width="1"/>
<line x1="482.8" y1="48" x2="485.8" y2="48" stroke="#111" stroke-width="1"/>
<line x1="490.2" y1="32" x2="490.2" y2="52" stroke="#2a2a2a" stroke-width="1"/>
<line x1="488.7" y1="32" x2="491.7" y2="32" stroke="#111" stroke-width="1"/>
<line x1="488.7" y1="52" x2="491.7" y2="52" stroke="#111" stroke-width="1"/>
<text x="453.9" y="44.6" font-size="8.3" font-weight="bold" font-style="normal" text-anchor="start" fill="#111" textLength="14" lengthAdjust="spacingAndGlyphs">LSD</text>
<text x="470.3" y="46.8" font-size="5.9" font-weight="bold" font-style="normal" text-anchor="start" fill="#1a1a1a" textLength="12.2" lengthAdjust="spacingAndGlyphs">0.05</text>
<text transform="translate(403.4,80.6) rotate(-45)" font-size="6.7" font-weight="bold" font-style="normal" text-anchor="end" fill="#000" textLength="19.15" lengthAdjust="spacingAndGlyphs">Mar-13</text>
<text transform="translate(415.2,80.6) rotate(-45)" font-size="6.7" font-weight="bold" font-style="normal" text-anchor="end" fill="#000" textLength="20.14" lengthAdjust="spacingAndGlyphs">May-13</text>
<text transform="translate(427,80.6) rotate(-45)" font-size="6.7" font-weight="bold" font-style="normal" text-anchor="end" fill="#000" textLength="17.17" lengthAdjust="spacingAndGlyphs">Jul-13</text>
<text transform="translate(438.8,80.6) rotate(-45)" font-size="6.7" font-weight="bold" font-style="normal" text-anchor="end" fill="#000" textLength="19.48" lengthAdjust="spacingAndGlyphs">Sep-13</text>
<text transform="translate(450.6,80.6) rotate(-45)" font-size="6.7" font-weight="bold" font-style="normal" text-anchor="end" fill="#000" textLength="19.81" lengthAdjust="spacingAndGlyphs">Nov-13</text>
<text transform="translate(462.4,80.6) rotate(-45)" font-size="6.7" font-weight="bold" font-style="normal" text-anchor="end" fill="#000" textLength="18.82" lengthAdjust="spacingAndGlyphs">Jan-14</text>
<text transform="translate(474.2,80.6) rotate(-45)" font-size="6.7" font-weight="bold" font-style="normal" text-anchor="end" fill="#000" textLength="19.15" lengthAdjust="spacingAndGlyphs">Mar-14</text>
<text transform="translate(486,80.6) rotate(-45)" font-size="6.7" font-weight="bold" font-style="normal" text-anchor="end" fill="#000" textLength="20.14" lengthAdjust="spacingAndGlyphs">May-14</text>
<text transform="translate(497.8,80.6) rotate(-45)" font-size="6.7" font-weight="bold" font-style="normal" text-anchor="end" fill="#000" textLength="17.17" lengthAdjust="spacingAndGlyphs">Jul-14</text>
<text transform="translate(509.6,80.6) rotate(-45)" font-size="6.7" font-weight="bold" font-style="normal" text-anchor="end" fill="#000" textLength="19.48" lengthAdjust="spacingAndGlyphs">Sep-14</text>
<text transform="translate(521.4,80.6) rotate(-45)" font-size="6.7" font-weight="bold" font-style="normal" text-anchor="end" fill="#000" textLength="19.81" lengthAdjust="spacingAndGlyphs">Nov-14</text>
<text transform="translate(533.2,80.6) rotate(-45)" font-size="6.7" font-weight="bold" font-style="normal" text-anchor="end" fill="#000" textLength="18.82" lengthAdjust="spacingAndGlyphs">Jan-15</text>
<rect x="513.2" y="28.5" width="34.6" height="18.8" fill="#fff" stroke="#9a9a9a" stroke-width="0.7"/>
<line x1="515" y1="33.8" x2="531.5" y2="33.8" stroke="#ff1a1a" stroke-width="1.2"/>
<circle cx="523.5" cy="33.8" r="1.6" fill="#ff1a1a"/>
<line x1="515" y1="42.5" x2="532" y2="42.5" stroke="#1a2cff" stroke-width="1.2"/>
<path d="M523.5,40.9 L525.1,42.5 L523.5,44.1 L521.9,42.5 Z" fill="#1a2cff"/>
<text x="533.5" y="36.4" font-size="6" font-weight="bold" font-style="normal" text-anchor="start" fill="#222" textLength="12.7" lengthAdjust="spacingAndGlyphs">8 cm</text>
<text x="532.3" y="44.9" font-size="6" font-weight="bold" font-style="normal" text-anchor="start" fill="#222" textLength="15.4" lengthAdjust="spacingAndGlyphs">15 cm</text>
<text x="76" y="115.2" font-size="9.8" font-weight="bold" font-style="italic" text-anchor="start" fill="#111" textLength="76" lengthAdjust="spacingAndGlyphs" stroke="#111" stroke-width="0.2">Origanum onites</text>
<rect x="68" y="126.5" width="24.1" height="54.7" fill="#c2c2c2" stroke="#9a9a9a" stroke-width="0.7"/>
<rect x="138.4" y="126.4" width="27.6" height="54.8" fill="#c2c2c2" stroke="#9a9a9a" stroke-width="0.7"/>
<rect x="150.6" y="126.8" width="15.1" height="54.4" fill="#d2d2d2"/>
<rect x="150.6" y="126.7" width="2.4" height="54.5" fill="#d9b243" stroke="#8f7530" stroke-width="0.55"/>
<rect x="156" y="126.7" width="2.4" height="54.5" fill="#d9b243" stroke="#8f7530" stroke-width="0.55"/>
<rect x="162.4" y="126.7" width="3" height="54.5" fill="#d9b243" stroke="#8f7530" stroke-width="0.55"/>
<line x1="49.6" y1="122.1" x2="49.6" y2="181.7" stroke="#111" stroke-width="1.1"/>
<line x1="47" y1="181.2" x2="49.6" y2="181.2" stroke="#111" stroke-width="0.9"/>
<text x="44.2" y="183.25" font-size="5.7" font-weight="bold" font-style="normal" text-anchor="end" fill="#000">0</text>
<line x1="48" y1="175.32" x2="49.6" y2="175.32" stroke="#111" stroke-width="0.8"/>
<line x1="47" y1="169.44" x2="49.6" y2="169.44" stroke="#111" stroke-width="0.9"/>
<text x="44.2" y="171.49" font-size="5.7" font-weight="bold" font-style="normal" text-anchor="end" fill="#000">200</text>
<line x1="48" y1="163.56" x2="49.6" y2="163.56" stroke="#111" stroke-width="0.8"/>
<line x1="47" y1="157.68" x2="49.6" y2="157.68" stroke="#111" stroke-width="0.9"/>
<text x="44.2" y="159.73" font-size="5.7" font-weight="bold" font-style="normal" text-anchor="end" fill="#000">400</text>
<line x1="48" y1="151.8" x2="49.6" y2="151.8" stroke="#111" stroke-width="0.8"/>
<line x1="47" y1="145.92" x2="49.6" y2="145.92" stroke="#111" stroke-width="0.9"/>
<text x="44.2" y="147.97" font-size="5.7" font-weight="bold" font-style="normal" text-anchor="end" fill="#000">600</text>
<line x1="48" y1="140.04" x2="49.6" y2="140.04" stroke="#111" stroke-width="0.8"/>
<line x1="47" y1="134.16" x2="49.6" y2="134.16" stroke="#111" stroke-width="0.9"/>
<text x="44.2" y="136.21" font-size="5.7" font-weight="bold" font-style="normal" text-anchor="end" fill="#000">800</text>
<line x1="48" y1="128.28" x2="49.6" y2="128.28" stroke="#111" stroke-width="0.8"/>
<line x1="47" y1="122.4" x2="49.6" y2="122.4" stroke="#111" stroke-width="0.9"/>
<text x="44.2" y="124.45" font-size="5.7" font-weight="bold" font-style="normal" text-anchor="end" fill="#000">1000</text>
<line x1="49.6" y1="181.2" x2="195" y2="181.2" stroke="#111" stroke-width="1.1"/>
<line x1="55.34" y1="181.2" x2="55.34" y2="182.8" stroke="#111" stroke-width="0.7"/>
<line x1="61.42" y1="181.2" x2="61.42" y2="182.8" stroke="#111" stroke-width="0.7"/>
<line x1="67.5" y1="181.2" x2="67.5" y2="182.8" stroke="#111" stroke-width="0.7"/>
<line x1="73.58" y1="181.2" x2="73.58" y2="182.8" stroke="#111" stroke-width="0.7"/>
<line x1="79.66" y1="181.2" x2="79.66" y2="182.8" stroke="#111" stroke-width="0.7"/>
<line x1="85.74" y1="181.2" x2="85.74" y2="182.8" stroke="#111" stroke-width="0.7"/>
<line x1="91.82" y1="181.2" x2="91.82" y2="182.8" stroke="#111" stroke-width="0.7"/>
<line x1="97.9" y1="181.2" x2="97.9" y2="182.8" stroke="#111" stroke-width="0.7"/>
<line x1="103.98" y1="181.2" x2="103.98" y2="182.8" stroke="#111" stroke-width="0.7"/>
<line x1="110.06" y1="181.2" x2="110.06" y2="182.8" stroke="#111" stroke-width="0.7"/>
<line x1="116.14" y1="181.2" x2="116.14" y2="182.8" stroke="#111" stroke-width="0.7"/>
<line x1="122.22" y1="181.2" x2="122.22" y2="182.8" stroke="#111" stroke-width="0.7"/>
<line x1="128.3" y1="181.2" x2="128.3" y2="182.8" stroke="#111" stroke-width="0.7"/>
<line x1="134.38" y1="181.2" x2="134.38" y2="182.8" stroke="#111" stroke-width="0.7"/>
<line x1="140.46" y1="181.2" x2="140.46" y2="182.8" stroke="#111" stroke-width="0.7"/>
<line x1="146.54" y1="181.2" x2="146.54" y2="182.8" stroke="#111" stroke-width="0.7"/>
<line x1="152.62" y1="181.2" x2="152.62" y2="182.8" stroke="#111" stroke-width="0.7"/>
<line x1="158.7" y1="181.2" x2="158.7" y2="182.8" stroke="#111" stroke-width="0.7"/>
<line x1="164.78" y1="181.2" x2="164.78" y2="182.8" stroke="#111" stroke-width="0.7"/>
<line x1="170.86" y1="181.2" x2="170.86" y2="182.8" stroke="#111" stroke-width="0.7"/>
<line x1="176.94" y1="181.2" x2="176.94" y2="182.8" stroke="#111" stroke-width="0.7"/>
<line x1="183.02" y1="181.2" x2="183.02" y2="182.8" stroke="#111" stroke-width="0.7"/>
<line x1="189.1" y1="181.2" x2="189.1" y2="182.8" stroke="#111" stroke-width="0.7"/>
<polyline points="52.3,181.2 58.38,181.2 64.46,180.61 70.54,168.85 76.62,170.03 82.7,175.91 88.78,179.73 94.86,181.2 100.94,181.2 107.02,181.2 113.1,181.2 119.18,181.2 125.26,181.2 131.34,172.67 137.42,155.62 143.5,168.85 149.58,173.85 155.66,181.2 161.74,181.2 167.82,181.2 173.9,181.2 179.98,181.2 186.06,181.2 192.14,181.2" fill="none" stroke="#ff1a1a" stroke-width="1.1"/>
<rect x="50.6" y="179.5" width="3.4" height="3.4" fill="#ff1a1a"/>
<rect x="56.68" y="179.5" width="3.4" height="3.4" fill="#ff1a1a"/>
<rect x="62.76" y="178.91" width="3.4" height="3.4" fill="#ff1a1a"/>
<rect x="68.84" y="167.15" width="3.4" height="3.4" fill="#ff1a1a"/>
<rect x="74.92" y="168.33" width="3.4" height="3.4" fill="#ff1a1a"/>
<rect x="81" y="174.21" width="3.4" height="3.4" fill="#ff1a1a"/>
<rect x="87.08" y="178.03" width="3.4" height="3.4" fill="#ff1a1a"/>
<rect x="93.16" y="179.5" width="3.4" height="3.4" fill="#ff1a1a"/>
<rect x="99.24" y="179.5" width="3.4" height="3.4" fill="#ff1a1a"/>
<rect x="105.32" y="179.5" width="3.4" height="3.4" fill="#ff1a1a"/>
<rect x="111.4" y="179.5" width="3.4" height="3.4" fill="#ff1a1a"/>
<rect x="117.48" y="179.5" width="3.4" height="3.4" fill="#ff1a1a"/>
<rect x="123.56" y="179.5" width="3.4" height="3.4" fill="#ff1a1a"/>
<rect x="129.64" y="170.97" width="3.4" height="3.4" fill="#ff1a1a"/>
<rect x="135.72" y="153.92" width="3.4" height="3.4" fill="#ff1a1a"/>
<rect x="141.8" y="167.15" width="3.4" height="3.4" fill="#ff1a1a"/>
<rect x="147.88" y="172.15" width="3.4" height="3.4" fill="#ff1a1a"/>
<rect x="153.96" y="179.5" width="3.4" height="3.4" fill="#ff1a1a"/>
<rect x="160.04" y="179.5" width="3.4" height="3.4" fill="#ff1a1a"/>
<rect x="166.12" y="179.5" width="3.4" height="3.4" fill="#ff1a1a"/>
<rect x="172.2" y="179.5" width="3.4" height="3.4" fill="#ff1a1a"/>
<rect x="178.28" y="179.5" width="3.4" height="3.4" fill="#ff1a1a"/>
<rect x="184.36" y="179.5" width="3.4" height="3.4" fill="#ff1a1a"/>
<rect x="190.44" y="179.5" width="3.4" height="3.4" fill="#ff1a1a"/>
<polyline points="52.3,181.2 58.38,181.2 64.46,177.38 70.54,160.33 76.62,159.15 82.7,167.09 88.78,174.14 94.86,179.73 100.94,181.2 107.02,181.2 113.1,181.2 119.18,181.2 125.26,181.2 131.34,166.79 137.42,143.57 143.5,148.27 149.58,163.85 155.66,181.2 161.74,181.2 167.82,181.2 173.9,181.2 179.98,181.2 186.06,181.2 192.14,181.2" fill="none" stroke="#1a2cff" stroke-width="1.1"/>
<circle cx="52.3" cy="181.2" r="1.7" fill="#1a2cff"/>
<circle cx="58.38" cy="181.2" r="1.7" fill="#1a2cff"/>
<circle cx="64.46" cy="177.38" r="1.7" fill="#1a2cff"/>
<circle cx="70.54" cy="160.33" r="1.7" fill="#1a2cff"/>
<circle cx="76.62" cy="159.15" r="1.7" fill="#1a2cff"/>
<circle cx="82.7" cy="167.09" r="1.7" fill="#1a2cff"/>
<circle cx="88.78" cy="174.14" r="1.7" fill="#1a2cff"/>
<circle cx="94.86" cy="179.73" r="1.7" fill="#1a2cff"/>
<circle cx="100.94" cy="181.2" r="1.7" fill="#1a2cff"/>
<circle cx="107.02" cy="181.2" r="1.7" fill="#1a2cff"/>
<circle cx="113.1" cy="181.2" r="1.7" fill="#1a2cff"/>
<circle cx="119.18" cy="181.2" r="1.7" fill="#1a2cff"/>
<circle cx="125.26" cy="181.2" r="1.7" fill="#1a2cff"/>
<circle cx="131.34" cy="166.79" r="1.7" fill="#1a2cff"/>
<circle cx="137.42" cy="143.57" r="1.7" fill="#1a2cff"/>
<circle cx="143.5" cy="148.27" r="1.7" fill="#1a2cff"/>
<circle cx="149.58" cy="163.85" r="1.7" fill="#1a2cff"/>
<circle cx="155.66" cy="181.2" r="1.7" fill="#1a2cff"/>
<circle cx="161.74" cy="181.2" r="1.7" fill="#1a2cff"/>
<circle cx="167.82" cy="181.2" r="1.7" fill="#1a2cff"/>
<circle cx="173.9" cy="181.2" r="1.7" fill="#1a2cff"/>
<circle cx="179.98" cy="181.2" r="1.7" fill="#1a2cff"/>
<circle cx="186.06" cy="181.2" r="1.7" fill="#1a2cff"/>
<circle cx="192.14" cy="181.2" r="1.7" fill="#1a2cff"/>
<line x1="63.16" y1="172" x2="65.76" y2="172" stroke="#222" stroke-width="1.1"/>
<line x1="70.54" y1="148" x2="70.54" y2="155" stroke="#2a2a2a" stroke-width="1"/>
<line x1="69.04" y1="148" x2="72.04" y2="148" stroke="#111" stroke-width="1"/>
<line x1="69.04" y1="155" x2="72.04" y2="155" stroke="#111" stroke-width="1"/>
<line x1="76.62" y1="147" x2="76.62" y2="156" stroke="#2a2a2a" stroke-width="1"/>
<line x1="75.12" y1="147" x2="78.12" y2="147" stroke="#111" stroke-width="1"/>
<line x1="75.12" y1="156" x2="78.12" y2="156" stroke="#111" stroke-width="1"/>
<line x1="82.7" y1="152" x2="82.7" y2="162" stroke="#2a2a2a" stroke-width="1"/>
<line x1="81.2" y1="152" x2="84.2" y2="152" stroke="#111" stroke-width="1"/>
<line x1="81.2" y1="162" x2="84.2" y2="162" stroke="#111" stroke-width="1"/>
<line x1="88.78" y1="164.2" x2="88.78" y2="171.2" stroke="#2a2a2a" stroke-width="1"/>
<line x1="87.28" y1="164.2" x2="90.28" y2="164.2" stroke="#111" stroke-width="1"/>
<line x1="87.28" y1="171.2" x2="90.28" y2="171.2" stroke="#111" stroke-width="1"/>
<line x1="93.56" y1="176.7" x2="96.16" y2="176.7" stroke="#222" stroke-width="1.1"/>
<line x1="131.04" y1="155" x2="131.04" y2="163" stroke="#2a2a2a" stroke-width="1"/>
<line x1="129.54" y1="155" x2="132.54" y2="155" stroke="#111" stroke-width="1"/>
<line x1="129.54" y1="163" x2="132.54" y2="163" stroke="#111" stroke-width="1"/>
<line x1="137.42" y1="135" x2="137.42" y2="140" stroke="#2a2a2a" stroke-width="1"/>
<line x1="135.92" y1="135" x2="138.92" y2="135" stroke="#111" stroke-width="1"/>
<line x1="135.92" y1="140" x2="138.92" y2="140" stroke="#111" stroke-width="1"/>
<line x1="143.5" y1="139" x2="143.5" y2="146" stroke="#2a2a2a" stroke-width="1"/>
<line x1="142" y1="139" x2="145" y2="139" stroke="#111" stroke-width="1"/>
<line x1="142" y1="146" x2="145" y2="146" stroke="#111" stroke-width="1"/>
<line x1="149.58" y1="152.7" x2="149.58" y2="160" stroke="#2a2a2a" stroke-width="1"/>
<line x1="148.08" y1="152.7" x2="151.08" y2="152.7" stroke="#111" stroke-width="1"/>
<line x1="148.08" y1="160" x2="151.08" y2="160" stroke="#111" stroke-width="1"/>
<circle cx="70.54" cy="157.3" r="0.9" fill="#111"/>
<circle cx="76.62" cy="155.8" r="0.9" fill="#111"/>
<circle cx="82.7" cy="163" r="0.9" fill="#111"/>
<circle cx="137.42" cy="149" r="0.9" fill="#111"/>
<circle cx="143.5" cy="162" r="0.9" fill="#111"/>
<circle cx="149.58" cy="168.2" r="0.9" fill="#111"/>
<text x="100.9" y="160.1" font-size="8.3" font-weight="bold" font-style="normal" text-anchor="start" fill="#111" textLength="14" lengthAdjust="spacingAndGlyphs">LSD</text>
<text x="117.3" y="162.3" font-size="5.9" font-weight="bold" font-style="normal" text-anchor="start" fill="#1a1a1a" textLength="12.2" lengthAdjust="spacingAndGlyphs">0.05</text>
<text x="241.5" y="114.3" font-size="9.8" font-weight="bold" font-style="italic" text-anchor="start" fill="#111" textLength="99.1" lengthAdjust="spacingAndGlyphs" stroke="#111" stroke-width="0.2">Rosmarinus officinalis</text>
<rect x="240" y="123" width="23.8" height="58.2" fill="#c2c2c2" stroke="#9a9a9a" stroke-width="0.7"/>
<rect x="310" y="121" width="28" height="60.2" fill="#c2c2c2" stroke="#9a9a9a" stroke-width="0.7"/>
<rect x="321.4" y="121.4" width="16.3" height="59.8" fill="#d2d2d2"/>
<rect x="321.4" y="121.3" width="2" height="59.9" fill="#d9b243" stroke="#8f7530" stroke-width="0.55"/>
<rect x="327.4" y="121.3" width="2" height="59.9" fill="#d9b243" stroke="#8f7530" stroke-width="0.55"/>
<rect x="334" y="121.3" width="3" height="59.9" fill="#d9b243" stroke="#8f7530" stroke-width="0.55"/>
<line x1="224.6" y1="119.7" x2="224.6" y2="181.7" stroke="#111" stroke-width="1.1"/>
<line x1="222" y1="181.2" x2="224.6" y2="181.2" stroke="#111" stroke-width="0.9"/>
<text x="219.2" y="183.36" font-size="6" font-weight="bold" font-style="normal" text-anchor="end" fill="#000">0</text>
<line x1="223" y1="176.1" x2="224.6" y2="176.1" stroke="#111" stroke-width="0.8"/>
<line x1="222" y1="171" x2="224.6" y2="171" stroke="#111" stroke-width="0.9"/>
<text x="219.2" y="173.16" font-size="6" font-weight="bold" font-style="normal" text-anchor="end" fill="#000">50</text>
<line x1="223" y1="165.9" x2="224.6" y2="165.9" stroke="#111" stroke-width="0.8"/>
<line x1="222" y1="160.8" x2="224.6" y2="160.8" stroke="#111" stroke-width="0.9"/>
<text x="219.2" y="162.96" font-size="6" font-weight="bold" font-style="normal" text-anchor="end" fill="#000">100</text>
<line x1="223" y1="155.7" x2="224.6" y2="155.7" stroke="#111" stroke-width="0.8"/>
<line x1="222" y1="150.6" x2="224.6" y2="150.6" stroke="#111" stroke-width="0.9"/>
<text x="219.2" y="152.76" font-size="6" font-weight="bold" font-style="normal" text-anchor="end" fill="#000">150</text>
<line x1="223" y1="145.5" x2="224.6" y2="145.5" stroke="#111" stroke-width="0.8"/>
<line x1="222" y1="140.4" x2="224.6" y2="140.4" stroke="#111" stroke-width="0.9"/>
<text x="219.2" y="142.56" font-size="6" font-weight="bold" font-style="normal" text-anchor="end" fill="#000">200</text>
<line x1="223" y1="135.3" x2="224.6" y2="135.3" stroke="#111" stroke-width="0.8"/>
<line x1="222" y1="130.2" x2="224.6" y2="130.2" stroke="#111" stroke-width="0.9"/>
<text x="219.2" y="132.36" font-size="6" font-weight="bold" font-style="normal" text-anchor="end" fill="#000">250</text>
<line x1="223" y1="125.1" x2="224.6" y2="125.1" stroke="#111" stroke-width="0.8"/>
<line x1="222" y1="120" x2="224.6" y2="120" stroke="#111" stroke-width="0.9"/>
<text x="219.2" y="122.16" font-size="6" font-weight="bold" font-style="normal" text-anchor="end" fill="#000">300</text>
<line x1="224.6" y1="181.2" x2="365.6" y2="181.2" stroke="#111" stroke-width="1.1"/>
<line x1="230.93" y1="181.2" x2="230.93" y2="182.8" stroke="#111" stroke-width="0.7"/>
<line x1="236.78" y1="181.2" x2="236.78" y2="182.8" stroke="#111" stroke-width="0.7"/>
<line x1="242.62" y1="181.2" x2="242.62" y2="182.8" stroke="#111" stroke-width="0.7"/>
<line x1="248.48" y1="181.2" x2="248.48" y2="182.8" stroke="#111" stroke-width="0.7"/>
<line x1="254.33" y1="181.2" x2="254.33" y2="182.8" stroke="#111" stroke-width="0.7"/>
<line x1="260.18" y1="181.2" x2="260.18" y2="182.8" stroke="#111" stroke-width="0.7"/>
<line x1="266.03" y1="181.2" x2="266.03" y2="182.8" stroke="#111" stroke-width="0.7"/>
<line x1="271.88" y1="181.2" x2="271.88" y2="182.8" stroke="#111" stroke-width="0.7"/>
<line x1="277.73" y1="181.2" x2="277.73" y2="182.8" stroke="#111" stroke-width="0.7"/>
<line x1="283.57" y1="181.2" x2="283.57" y2="182.8" stroke="#111" stroke-width="0.7"/>
<line x1="289.43" y1="181.2" x2="289.43" y2="182.8" stroke="#111" stroke-width="0.7"/>
<line x1="295.28" y1="181.2" x2="295.28" y2="182.8" stroke="#111" stroke-width="0.7"/>
<line x1="301.12" y1="181.2" x2="301.12" y2="182.8" stroke="#111" stroke-width="0.7"/>
<line x1="306.98" y1="181.2" x2="306.98" y2="182.8" stroke="#111" stroke-width="0.7"/>
<line x1="312.82" y1="181.2" x2="312.82" y2="182.8" stroke="#111" stroke-width="0.7"/>
<line x1="318.68" y1="181.2" x2="318.68" y2="182.8" stroke="#111" stroke-width="0.7"/>
<line x1="324.53" y1="181.2" x2="324.53" y2="182.8" stroke="#111" stroke-width="0.7"/>
<line x1="330.38" y1="181.2" x2="330.38" y2="182.8" stroke="#111" stroke-width="0.7"/>
<line x1="336.23" y1="181.2" x2="336.23" y2="182.8" stroke="#111" stroke-width="0.7"/>
<line x1="342.07" y1="181.2" x2="342.07" y2="182.8" stroke="#111" stroke-width="0.7"/>
<line x1="347.93" y1="181.2" x2="347.93" y2="182.8" stroke="#111" stroke-width="0.7"/>
<line x1="353.78" y1="181.2" x2="353.78" y2="182.8" stroke="#111" stroke-width="0.7"/>
<line x1="359.62" y1="181.2" x2="359.62" y2="182.8" stroke="#111" stroke-width="0.7"/>
<line x1="365.47" y1="181.2" x2="365.47" y2="182.8" stroke="#111" stroke-width="0.7"/>
<polyline points="228,175.69 233.85,181.2 239.7,181.2 245.55,181.2 251.4,181.2 257.25,181.2 263.1,181.2 268.95,181.2 274.8,181.2 280.65,181.2 286.5,181.2 292.35,181.2 298.2,181.2 304.05,181.2 309.9,181.2 315.75,181.2 321.6,181.2 327.45,181.2 333.3,181.2 339.15,180.38 345,179.57 350.85,179.57 356.7,176.3 362.55,175.28" fill="none" stroke="#ff1a1a" stroke-width="1.1"/>
<rect x="226.3" y="173.99" width="3.4" height="3.4" fill="#ff1a1a"/>
<rect x="232.15" y="179.5" width="3.4" height="3.4" fill="#ff1a1a"/>
<rect x="238" y="179.5" width="3.4" height="3.4" fill="#ff1a1a"/>
<rect x="243.85" y="179.5" width="3.4" height="3.4" fill="#ff1a1a"/>
<rect x="249.7" y="179.5" width="3.4" height="3.4" fill="#ff1a1a"/>
<rect x="255.55" y="179.5" width="3.4" height="3.4" fill="#ff1a1a"/>
<rect x="261.4" y="179.5" width="3.4" height="3.4" fill="#ff1a1a"/>
<rect x="267.25" y="179.5" width="3.4" height="3.4" fill="#ff1a1a"/>
<rect x="273.1" y="179.5" width="3.4" height="3.4" fill="#ff1a1a"/>
<rect x="278.95" y="179.5" width="3.4" height="3.4" fill="#ff1a1a"/>
<rect x="284.8" y="179.5" width="3.4" height="3.4" fill="#ff1a1a"/>
<rect x="290.65" y="179.5" width="3.4" height="3.4" fill="#ff1a1a"/>
<rect x="296.5" y="179.5" width="3.4" height="3.4" fill="#ff1a1a"/>
<rect x="302.35" y="179.5" width="3.4" height="3.4" fill="#ff1a1a"/>
<rect x="308.2" y="179.5" width="3.4" height="3.4" fill="#ff1a1a"/>
<rect x="314.05" y="179.5" width="3.4" height="3.4" fill="#ff1a1a"/>
<rect x="319.9" y="179.5" width="3.4" height="3.4" fill="#ff1a1a"/>
<rect x="325.75" y="179.5" width="3.4" height="3.4" fill="#ff1a1a"/>
<rect x="331.6" y="179.5" width="3.4" height="3.4" fill="#ff1a1a"/>
<rect x="337.45" y="178.68" width="3.4" height="3.4" fill="#ff1a1a"/>
<rect x="343.3" y="177.87" width="3.4" height="3.4" fill="#ff1a1a"/>
<rect x="349.15" y="177.87" width="3.4" height="3.4" fill="#ff1a1a"/>
<rect x="355" y="174.6" width="3.4" height="3.4" fill="#ff1a1a"/>
<rect x="360.85" y="173.58" width="3.4" height="3.4" fill="#ff1a1a"/>
<polyline points="228,171.61 233.85,181.2 239.7,181.2 245.55,181.2 251.4,181.2 257.25,181.2 263.1,181.2 268.95,181.2 274.8,181.2 280.65,181.2 286.5,181.2 292.35,181.2 298.2,181.2 304.05,181.2 309.9,181.2 315.75,181.2 321.6,181.2 327.45,181.2 333.3,181.2 339.15,176.3 345,171.2 350.85,176.71 356.7,167.74 362.55,164.88" fill="none" stroke="#1a2cff" stroke-width="1.1"/>
<circle cx="228" cy="171.61" r="1.7" fill="#1a2cff"/>
<circle cx="233.85" cy="181.2" r="1.7" fill="#1a2cff"/>
<circle cx="239.7" cy="181.2" r="1.7" fill="#1a2cff"/>
<circle cx="245.55" cy="181.2" r="1.7" fill="#1a2cff"/>
<circle cx="251.4" cy="181.2" r="1.7" fill="#1a2cff"/>
<circle cx="257.25" cy="181.2" r="1.7" fill="#1a2cff"/>
<circle cx="263.1" cy="181.2" r="1.7" fill="#1a2cff"/>
<circle cx="268.95" cy="181.2" r="1.7" fill="#1a2cff"/>
<circle cx="274.8" cy="181.2" r="1.7" fill="#1a2cff"/>
<circle cx="280.65" cy="181.2" r="1.7" fill="#1a2cff"/>
<circle cx="286.5" cy="181.2" r="1.7" fill="#1a2cff"/>
<circle cx="292.35" cy="181.2" r="1.7" fill="#1a2cff"/>
<circle cx="298.2" cy="181.2" r="1.7" fill="#1a2cff"/>
<circle cx="304.05" cy="181.2" r="1.7" fill="#1a2cff"/>
<circle cx="309.9" cy="181.2" r="1.7" fill="#1a2cff"/>
<circle cx="315.75" cy="181.2" r="1.7" fill="#1a2cff"/>
<circle cx="321.6" cy="181.2" r="1.7" fill="#1a2cff"/>
<circle cx="327.45" cy="181.2" r="1.7" fill="#1a2cff"/>
<circle cx="333.3" cy="181.2" r="1.7" fill="#1a2cff"/>
<circle cx="339.15" cy="176.3" r="1.7" fill="#1a2cff"/>
<circle cx="345" cy="171.2" r="1.7" fill="#1a2cff"/>
<circle cx="350.85" cy="176.71" r="1.7" fill="#1a2cff"/>
<circle cx="356.7" cy="167.74" r="1.7" fill="#1a2cff"/>
<circle cx="362.55" cy="164.88" r="1.7" fill="#1a2cff"/>
<line x1="228" y1="165" x2="228" y2="168" stroke="#2a2a2a" stroke-width="1"/>
<line x1="226.5" y1="165" x2="229.5" y2="165" stroke="#111" stroke-width="1"/>
<line x1="226.5" y1="168" x2="229.5" y2="168" stroke="#111" stroke-width="1"/>
<line x1="232.55" y1="175.2" x2="235.15" y2="175.2" stroke="#222" stroke-width="1.1"/>
<line x1="332" y1="176.7" x2="334.6" y2="176.7" stroke="#222" stroke-width="1.1"/>
<line x1="339.15" y1="162.2" x2="339.15" y2="171.2" stroke="#2a2a2a" stroke-width="1"/>
<line x1="337.65" y1="162.2" x2="340.65" y2="162.2" stroke="#111" stroke-width="1"/>
<line x1="337.65" y1="171.2" x2="340.65" y2="171.2" stroke="#111" stroke-width="1"/>
<line x1="345" y1="153.9" x2="345" y2="165.6" stroke="#2a2a2a" stroke-width="1"/>
<line x1="343.5" y1="153.9" x2="346.5" y2="153.9" stroke="#111" stroke-width="1"/>
<line x1="343.5" y1="165.6" x2="346.5" y2="165.6" stroke="#111" stroke-width="1"/>
<line x1="350.85" y1="162.6" x2="350.85" y2="167.7" stroke="#2a2a2a" stroke-width="1"/>
<line x1="349.35" y1="162.6" x2="352.35" y2="162.6" stroke="#111" stroke-width="1"/>
<line x1="349.35" y1="167.7" x2="352.35" y2="167.7" stroke="#111" stroke-width="1"/>
<line x1="356.7" y1="151.1" x2="356.7" y2="164.9" stroke="#2a2a2a" stroke-width="1"/>
<line x1="355.2" y1="151.1" x2="358.2" y2="151.1" stroke="#111" stroke-width="1"/>
<line x1="355.2" y1="164.9" x2="358.2" y2="164.9" stroke="#111" stroke-width="1"/>
<line x1="362.55" y1="144.8" x2="362.55" y2="161.5" stroke="#2a2a2a" stroke-width="1"/>
<line x1="361.05" y1="144.8" x2="364.05" y2="144.8" stroke="#111" stroke-width="1"/>
<line x1="361.05" y1="161.5" x2="364.05" y2="161.5" stroke="#111" stroke-width="1"/>
<text x="309.2" y="168" font-size="8.3" font-weight="bold" font-style="normal" text-anchor="start" fill="#111" textLength="14" lengthAdjust="spacingAndGlyphs">LSD</text>
<text x="325.6" y="170.2" font-size="5.9" font-weight="bold" font-style="normal" text-anchor="start" fill="#1a1a1a" textLength="12.2" lengthAdjust="spacingAndGlyphs">0.05</text>
<text x="395.5" y="114.9" font-size="9.8" font-weight="bold" fill="#111" stroke="#111" stroke-width="0.2" textLength="139" lengthAdjust="spacingAndGlyphs"><tspan font-style="italic">Sideritis syriaca</tspan> subsp. <tspan font-style="italic">syriaca</tspan></text>
<text x="414.9" y="140.6" font-size="6.5" font-style="italic" fill="#1a1a1a" letter-spacing="0.498" stroke="#222" stroke-width="0.1">Sideritis</text>
<text x="445.7" y="140.6" font-size="6.5" font-style="italic" fill="#1a1a1a" letter-spacing="0.335" stroke="#222" stroke-width="0.1">syriaca</text>
<text x="471.5" y="140.6" font-size="6.5" font-style="italic" fill="#1a1a1a" letter-spacing="0.050" stroke="#222" stroke-width="0.1">subsp.</text>
<text x="495.4" y="140.6" font-size="6.5" font-style="italic" fill="#1a1a1a" letter-spacing="0.302" stroke="#222" stroke-width="0.1">syriaca</text>
<text x="414.9" y="153" font-size="6.5" font-style="normal" fill="#1a1a1a" letter-spacing="0.613" stroke="#222" stroke-width="0.1">did</text>
<text x="432.8" y="153" font-size="6.5" font-style="normal" fill="#1a1a1a" letter-spacing="0.682" stroke="#222" stroke-width="0.1">not</text>
<text x="450.6" y="153" font-size="6.5" font-style="normal" fill="#1a1a1a" letter-spacing="0.612" stroke="#222" stroke-width="0.1">flower</text>
<text x="478.6" y="153" font-size="6.5" font-style="normal" fill="#1a1a1a" letter-spacing="0.526" stroke="#222" stroke-width="0.1">during</text>
<text x="507" y="153" font-size="6.5" font-style="normal" fill="#1a1a1a" letter-spacing="0.782" stroke="#222" stroke-width="0.1">the</text>
<text x="414.8" y="165" font-size="6.5" font-style="normal" fill="#1a1a1a" letter-spacing="0.178" stroke="#222" stroke-width="0.1">course</text>
<text x="438.1" y="165" font-size="6.5" font-style="normal" fill="#1a1a1a" letter-spacing="0.279" stroke="#222" stroke-width="0.1">of</text>
<text x="446.6" y="165" font-size="6.5" font-style="normal" fill="#1a1a1a" letter-spacing="0.582" stroke="#222" stroke-width="0.1">the</text>
<text x="459.3" y="165" font-size="6.5" font-style="normal" fill="#1a1a1a" letter-spacing="0.466" stroke="#222" stroke-width="0.1">study</text>
<text x="77.5" y="222.5" font-size="9.8" font-weight="bold" font-style="italic" text-anchor="start" fill="#111" textLength="79.5" lengthAdjust="spacingAndGlyphs" stroke="#111" stroke-width="0.2">Satureja thymbra</text>
<rect x="68.7" y="233.4" width="24.4" height="47.5" fill="#c2c2c2" stroke="#9a9a9a" stroke-width="0.7"/>
<rect x="139.5" y="233" width="27.9" height="47.9" fill="#c2c2c2" stroke="#9a9a9a" stroke-width="0.7"/>
<rect x="151.5" y="233.4" width="15.6" height="47.5" fill="#d2d2d2"/>
<rect x="151.5" y="233.3" width="2.4" height="47.6" fill="#d9b243" stroke="#8f7530" stroke-width="0.55"/>
<rect x="158.5" y="233.3" width="2.4" height="47.6" fill="#d9b243" stroke="#8f7530" stroke-width="0.55"/>
<rect x="164.3" y="233.3" width="2.9" height="47.6" fill="#d9b243" stroke="#8f7530" stroke-width="0.55"/>
<line x1="49.8" y1="227.7" x2="49.8" y2="281.4" stroke="#111" stroke-width="1.1"/>
<line x1="47.2" y1="280.9" x2="49.8" y2="280.9" stroke="#111" stroke-width="0.9"/>
<text x="44.4" y="282.99" font-size="5.8" font-weight="bold" font-style="normal" text-anchor="end" fill="#000">0</text>
<line x1="48.2" y1="275.61" x2="49.8" y2="275.61" stroke="#111" stroke-width="0.8"/>
<line x1="47.2" y1="270.32" x2="49.8" y2="270.32" stroke="#111" stroke-width="0.9"/>
<text x="44.4" y="272.41" font-size="5.8" font-weight="bold" font-style="normal" text-anchor="end" fill="#000">200</text>
<line x1="48.2" y1="265.03" x2="49.8" y2="265.03" stroke="#111" stroke-width="0.8"/>
<line x1="47.2" y1="259.74" x2="49.8" y2="259.74" stroke="#111" stroke-width="0.9"/>
<text x="44.4" y="261.83" font-size="5.8" font-weight="bold" font-style="normal" text-anchor="end" fill="#000">400</text>
<line x1="48.2" y1="254.45" x2="49.8" y2="254.45" stroke="#111" stroke-width="0.8"/>
<line x1="47.2" y1="249.16" x2="49.8" y2="249.16" stroke="#111" stroke-width="0.9"/>
<text x="44.4" y="251.25" font-size="5.8" font-weight="bold" font-style="normal" text-anchor="end" fill="#000">600</text>
<line x1="48.2" y1="243.87" x2="49.8" y2="243.87" stroke="#111" stroke-width="0.8"/>
<line x1="47.2" y1="238.58" x2="49.8" y2="238.58" stroke="#111" stroke-width="0.9"/>
<text x="44.4" y="240.67" font-size="5.8" font-weight="bold" font-style="normal" text-anchor="end" fill="#000">800</text>
<line x1="48.2" y1="233.29" x2="49.8" y2="233.29" stroke="#111" stroke-width="0.8"/>
<line x1="47.2" y1="228" x2="49.8" y2="228" stroke="#111" stroke-width="0.9"/>
<text x="44.4" y="230.09" font-size="5.8" font-weight="bold" font-style="normal" text-anchor="end" fill="#000">1000</text>
<line x1="49.8" y1="280.9" x2="195.4" y2="280.9" stroke="#111" stroke-width="1.1"/>
<line x1="56.22" y1="280.9" x2="56.22" y2="282.5" stroke="#111" stroke-width="0.7"/>
<line x1="62.26" y1="280.9" x2="62.26" y2="282.5" stroke="#111" stroke-width="0.7"/>
<line x1="68.3" y1="280.9" x2="68.3" y2="282.5" stroke="#111" stroke-width="0.7"/>
<line x1="74.34" y1="280.9" x2="74.34" y2="282.5" stroke="#111" stroke-width="0.7"/>
<line x1="80.38" y1="280.9" x2="80.38" y2="282.5" stroke="#111" stroke-width="0.7"/>
<line x1="86.42" y1="280.9" x2="86.42" y2="282.5" stroke="#111" stroke-width="0.7"/>
<line x1="92.46" y1="280.9" x2="92.46" y2="282.5" stroke="#111" stroke-width="0.7"/>
<line x1="98.5" y1="280.9" x2="98.5" y2="282.5" stroke="#111" stroke-width="0.7"/>
<line x1="104.54" y1="280.9" x2="104.54" y2="282.5" stroke="#111" stroke-width="0.7"/>
<line x1="110.58" y1="280.9" x2="110.58" y2="282.5" stroke="#111" stroke-width="0.7"/>
<line x1="116.62" y1="280.9" x2="116.62" y2="282.5" stroke="#111" stroke-width="0.7"/>
<line x1="122.66" y1="280.9" x2="122.66" y2="282.5" stroke="#111" stroke-width="0.7"/>
<line x1="128.7" y1="280.9" x2="128.7" y2="282.5" stroke="#111" stroke-width="0.7"/>
<line x1="134.74" y1="280.9" x2="134.74" y2="282.5" stroke="#111" stroke-width="0.7"/>
<line x1="140.78" y1="280.9" x2="140.78" y2="282.5" stroke="#111" stroke-width="0.7"/>
<line x1="146.82" y1="280.9" x2="146.82" y2="282.5" stroke="#111" stroke-width="0.7"/>
<line x1="152.86" y1="280.9" x2="152.86" y2="282.5" stroke="#111" stroke-width="0.7"/>
<line x1="158.9" y1="280.9" x2="158.9" y2="282.5" stroke="#111" stroke-width="0.7"/>
<line x1="164.94" y1="280.9" x2="164.94" y2="282.5" stroke="#111" stroke-width="0.7"/>
<line x1="170.98" y1="280.9" x2="170.98" y2="282.5" stroke="#111" stroke-width="0.7"/>
<line x1="177.02" y1="280.9" x2="177.02" y2="282.5" stroke="#111" stroke-width="0.7"/>
<line x1="183.06" y1="280.9" x2="183.06" y2="282.5" stroke="#111" stroke-width="0.7"/>
<line x1="189.1" y1="280.9" x2="189.1" y2="282.5" stroke="#111" stroke-width="0.7"/>
<line x1="195.14" y1="280.9" x2="195.14" y2="282.5" stroke="#111" stroke-width="0.7"/>
<polyline points="53.2,280.79 59.24,280.9 65.28,272.96 71.32,270.85 77.36,272.7 83.4,276.4 89.44,277.62 95.48,277.73 101.52,278.68 107.56,279.05 113.6,279.95 119.64,280.37 125.68,277.73 131.72,264.5 137.76,266.09 143.8,280.9" fill="none" stroke="#ff1a1a" stroke-width="1.1"/>
<rect x="51.5" y="279.09" width="3.4" height="3.4" fill="#ff1a1a"/>
<rect x="57.54" y="279.2" width="3.4" height="3.4" fill="#ff1a1a"/>
<rect x="63.58" y="271.26" width="3.4" height="3.4" fill="#ff1a1a"/>
<rect x="69.62" y="269.15" width="3.4" height="3.4" fill="#ff1a1a"/>
<rect x="75.66" y="271" width="3.4" height="3.4" fill="#ff1a1a"/>
<rect x="81.7" y="274.7" width="3.4" height="3.4" fill="#ff1a1a"/>
<rect x="87.74" y="275.92" width="3.4" height="3.4" fill="#ff1a1a"/>
<rect x="93.78" y="276.03" width="3.4" height="3.4" fill="#ff1a1a"/>
<rect x="99.82" y="276.98" width="3.4" height="3.4" fill="#ff1a1a"/>
<rect x="105.86" y="277.35" width="3.4" height="3.4" fill="#ff1a1a"/>
<rect x="111.9" y="278.25" width="3.4" height="3.4" fill="#ff1a1a"/>
<rect x="117.94" y="278.67" width="3.4" height="3.4" fill="#ff1a1a"/>
<rect x="123.98" y="276.03" width="3.4" height="3.4" fill="#ff1a1a"/>
<rect x="130.02" y="262.8" width="3.4" height="3.4" fill="#ff1a1a"/>
<rect x="136.06" y="264.39" width="3.4" height="3.4" fill="#ff1a1a"/>
<rect x="142.1" y="279.2" width="3.4" height="3.4" fill="#ff1a1a"/>
<polyline points="53.2,280.37 59.24,280.9 65.28,271.38 71.32,263.44 77.36,272.44 83.4,275.87 89.44,274.82 95.48,276.93 101.52,276.4 107.56,277.83 113.6,279.58 119.64,279.58 125.68,273.23 131.72,254.45 137.76,253.66 143.8,280.9 149.84,276.67 155.88,277.2 161.92,280.37 167.96,280.9 174,280.9 180.04,280.9 186.08,280.9 192.12,280.9" fill="none" stroke="#1a2cff" stroke-width="1.1"/>
<circle cx="53.2" cy="280.37" r="1.7" fill="#1a2cff"/>
<circle cx="59.24" cy="280.9" r="1.7" fill="#1a2cff"/>
<circle cx="65.28" cy="271.38" r="1.7" fill="#1a2cff"/>
<circle cx="71.32" cy="263.44" r="1.7" fill="#1a2cff"/>
<circle cx="77.36" cy="272.44" r="1.7" fill="#1a2cff"/>
<circle cx="83.4" cy="275.87" r="1.7" fill="#1a2cff"/>
<circle cx="89.44" cy="274.82" r="1.7" fill="#1a2cff"/>
<circle cx="95.48" cy="276.93" r="1.7" fill="#1a2cff"/>
<circle cx="101.52" cy="276.4" r="1.7" fill="#1a2cff"/>
<circle cx="107.56" cy="277.83" r="1.7" fill="#1a2cff"/>
<circle cx="113.6" cy="279.58" r="1.7" fill="#1a2cff"/>
<circle cx="119.64" cy="279.58" r="1.7" fill="#1a2cff"/>
<circle cx="125.68" cy="273.23" r="1.7" fill="#1a2cff"/>
<circle cx="131.72" cy="254.45" r="1.7" fill="#1a2cff"/>
<circle cx="137.76" cy="253.66" r="1.7" fill="#1a2cff"/>
<circle cx="143.8" cy="280.9" r="1.7" fill="#1a2cff"/>
<circle cx="149.84" cy="276.67" r="1.7" fill="#1a2cff"/>
<circle cx="155.88" cy="277.2" r="1.7" fill="#1a2cff"/>
<circle cx="161.92" cy="280.37" r="1.7" fill="#1a2cff"/>
<circle cx="167.96" cy="280.9" r="1.7" fill="#1a2cff"/>
<circle cx="174" cy="280.9" r="1.7" fill="#1a2cff"/>
<circle cx="180.04" cy="280.9" r="1.7" fill="#1a2cff"/>
<circle cx="186.08" cy="280.9" r="1.7" fill="#1a2cff"/>
<circle cx="192.12" cy="280.9" r="1.7" fill="#1a2cff"/>
<line x1="51.7" y1="277.9" x2="54.7" y2="277.9" stroke="#222" stroke-width="1.1"/>
<line x1="57.74" y1="278.05" x2="60.74" y2="278.05" stroke="#222" stroke-width="1.1"/>
<line x1="65.28" y1="257.8" x2="65.28" y2="265.8" stroke="#2a2a2a" stroke-width="1"/>
<line x1="63.78" y1="257.8" x2="66.78" y2="257.8" stroke="#111" stroke-width="1"/>
<line x1="63.78" y1="265.8" x2="66.78" y2="265.8" stroke="#111" stroke-width="1"/>
<line x1="71.32" y1="250.6" x2="71.32" y2="260" stroke="#2a2a2a" stroke-width="1"/>
<line x1="69.82" y1="250.6" x2="72.82" y2="250.6" stroke="#111" stroke-width="1"/>
<line x1="69.82" y1="260" x2="72.82" y2="260" stroke="#111" stroke-width="1"/>
<line x1="77.36" y1="262.7" x2="77.36" y2="267.3" stroke="#2a2a2a" stroke-width="1"/>
<line x1="75.86" y1="262.7" x2="78.86" y2="262.7" stroke="#111" stroke-width="1"/>
<line x1="75.86" y1="267.3" x2="78.86" y2="267.3" stroke="#111" stroke-width="1"/>
<line x1="83.4" y1="269" x2="83.4" y2="273.6" stroke="#2a2a2a" stroke-width="1"/>
<line x1="81.9" y1="269" x2="84.9" y2="269" stroke="#111" stroke-width="1"/>
<line x1="81.9" y1="273.6" x2="84.9" y2="273.6" stroke="#111" stroke-width="1"/>
<line x1="89.44" y1="267" x2="89.44" y2="271" stroke="#2a2a2a" stroke-width="1"/>
<line x1="87.94" y1="267" x2="90.94" y2="267" stroke="#111" stroke-width="1"/>
<line x1="87.94" y1="271" x2="90.94" y2="271" stroke="#111" stroke-width="1"/>
<line x1="95.48" y1="272.7" x2="95.48" y2="275.8" stroke="#2a2a2a" stroke-width="1"/>
<line x1="93.98" y1="272.7" x2="96.98" y2="272.7" stroke="#111" stroke-width="1"/>
<line x1="93.98" y1="275.8" x2="96.98" y2="275.8" stroke="#111" stroke-width="1"/>
<line x1="101.52" y1="270" x2="101.52" y2="274.9" stroke="#2a2a2a" stroke-width="1"/>
<line x1="100.02" y1="270" x2="103.02" y2="270" stroke="#111" stroke-width="1"/>
<line x1="100.02" y1="274.9" x2="103.02" y2="274.9" stroke="#111" stroke-width="1"/>
<line x1="107.56" y1="272.7" x2="107.56" y2="275.8" stroke="#2a2a2a" stroke-width="1"/>
<line x1="106.06" y1="272.7" x2="109.06" y2="272.7" stroke="#111" stroke-width="1"/>
<line x1="106.06" y1="275.8" x2="109.06" y2="275.8" stroke="#111" stroke-width="1"/>
<line x1="113.6" y1="274.5" x2="113.6" y2="275.8" stroke="#2a2a2a" stroke-width="1"/>
<line x1="112.1" y1="274.5" x2="115.1" y2="274.5" stroke="#111" stroke-width="1"/>
<line x1="112.1" y1="275.8" x2="115.1" y2="275.8" stroke="#111" stroke-width="1"/>
<line x1="118.14" y1="277.3" x2="121.14" y2="277.3" stroke="#222" stroke-width="1.1"/>
<line x1="125.68" y1="265.5" x2="125.68" y2="270" stroke="#2a2a2a" stroke-width="1"/>
<line x1="124.18" y1="265.5" x2="127.18" y2="265.5" stroke="#111" stroke-width="1"/>
<line x1="124.18" y1="270" x2="127.18" y2="270" stroke="#111" stroke-width="1"/>
<line x1="131.72" y1="245.8" x2="131.72" y2="249.4" stroke="#2a2a2a" stroke-width="1"/>
<line x1="130.22" y1="245.8" x2="133.22" y2="245.8" stroke="#111" stroke-width="1"/>
<line x1="130.22" y1="249.4" x2="133.22" y2="249.4" stroke="#111" stroke-width="1"/>
<line x1="137.76" y1="244.6" x2="137.76" y2="249.2" stroke="#2a2a2a" stroke-width="1"/>
<line x1="136.26" y1="244.6" x2="139.26" y2="244.6" stroke="#111" stroke-width="1"/>
<line x1="136.26" y1="249.2" x2="139.26" y2="249.2" stroke="#111" stroke-width="1"/>
<circle cx="131.72" cy="259" r="0.9" fill="#111"/>
<circle cx="137.76" cy="259" r="0.9" fill="#111"/>
<text x="100.5" y="249.2" font-size="8.3" font-weight="bold" font-style="normal" text-anchor="start" fill="#111" textLength="14" lengthAdjust="spacingAndGlyphs">LSD</text>
<text x="116.9" y="251.4" font-size="5.9" font-weight="bold" font-style="normal" text-anchor="start" fill="#1a1a1a" textLength="12.2" lengthAdjust="spacingAndGlyphs">0.05</text>
<text transform="translate(54.9,291.2) rotate(-45)" font-size="7" font-weight="bold" font-style="normal" text-anchor="end" fill="#000" textLength="20.21" lengthAdjust="spacingAndGlyphs">Mar-13</text>
<text transform="translate(66.98,291.2) rotate(-45)" font-size="7" font-weight="bold" font-style="normal" text-anchor="end" fill="#000" textLength="21.26" lengthAdjust="spacingAndGlyphs">May-13</text>
<text transform="translate(79.06,291.2) rotate(-45)" font-size="7" font-weight="bold" font-style="normal" text-anchor="end" fill="#000" textLength="18.12" lengthAdjust="spacingAndGlyphs">Jul-13</text>
<text transform="translate(91.14,291.2) rotate(-45)" font-size="7" font-weight="bold" font-style="normal" text-anchor="end" fill="#000" textLength="20.56" lengthAdjust="spacingAndGlyphs">Sep-13</text>
<text transform="translate(103.22,291.2) rotate(-45)" font-size="7" font-weight="bold" font-style="normal" text-anchor="end" fill="#000" textLength="20.91" lengthAdjust="spacingAndGlyphs">Nov-13</text>
<text transform="translate(115.3,291.2) rotate(-45)" font-size="7" font-weight="bold" font-style="normal" text-anchor="end" fill="#000" textLength="19.87" lengthAdjust="spacingAndGlyphs">Jan-14</text>
<text transform="translate(127.38,291.2) rotate(-45)" font-size="7" font-weight="bold" font-style="normal" text-anchor="end" fill="#000" textLength="20.21" lengthAdjust="spacingAndGlyphs">Mar-14</text>
<text transform="translate(139.46,291.2) rotate(-45)" font-size="7" font-weight="bold" font-style="normal" text-anchor="end" fill="#000" textLength="21.26" lengthAdjust="spacingAndGlyphs">May-14</text>
<text transform="translate(151.54,291.2) rotate(-45)" font-size="7" font-weight="bold" font-style="normal" text-anchor="end" fill="#000" textLength="18.12" lengthAdjust="spacingAndGlyphs">Jul-14</text>
<text transform="translate(163.62,291.2) rotate(-45)" font-size="7" font-weight="bold" font-style="normal" text-anchor="end" fill="#000" textLength="20.56" lengthAdjust="spacingAndGlyphs">Sep-14</text>
<text transform="translate(175.7,291.2) rotate(-45)" font-size="7" font-weight="bold" font-style="normal" text-anchor="end" fill="#000" textLength="20.91" lengthAdjust="spacingAndGlyphs">Nov-14</text>
<text transform="translate(187.78,291.2) rotate(-45)" font-size="7" font-weight="bold" font-style="normal" text-anchor="end" fill="#000" textLength="19.87" lengthAdjust="spacingAndGlyphs">Jan-15</text>
<text x="257.5" y="212.8" font-size="9.8" font-weight="bold" font-style="italic" text-anchor="start" fill="#111" textLength="63.5" lengthAdjust="spacingAndGlyphs" stroke="#111" stroke-width="0.2">Cistus creticus</text>
<line x1="234.4" y1="221" x2="250" y2="221" stroke="#9a5fd0" stroke-width="1"/>
<circle cx="242.2" cy="221" r="1.2" fill="#9a5fd0"/>
<text x="251.6" y="223.2" font-size="5.6" font-weight="bold" font-style="normal" text-anchor="start" fill="#333" textLength="7" lengthAdjust="spacingAndGlyphs">S-L</text>
<line x1="263" y1="221" x2="278" y2="221" stroke="#ff1a1a" stroke-width="1"/>
<circle cx="270.5" cy="221" r="1.2" fill="#ff1a1a"/>
<text x="279.6" y="223.2" font-size="5.6" font-weight="bold" font-style="normal" text-anchor="start" fill="#333" textLength="7" lengthAdjust="spacingAndGlyphs">S-H</text>
<line x1="292" y1="221" x2="307.4" y2="221" stroke="#1a2cff" stroke-width="1"/>
<circle cx="299.7" cy="221" r="1.2" fill="#1a2cff"/>
<text x="309" y="223.2" font-size="5.6" font-weight="bold" font-style="normal" text-anchor="start" fill="#333" textLength="8" lengthAdjust="spacingAndGlyphs">D-L</text>
<line x1="321" y1="221" x2="336" y2="221" stroke="#2ec46a" stroke-width="1"/>
<circle cx="328.5" cy="221" r="1.2" fill="#2ec46a"/>
<text x="338" y="223.2" font-size="5.6" font-weight="bold" font-style="normal" text-anchor="start" fill="#333" textLength="8" lengthAdjust="spacingAndGlyphs">D-H</text>
<rect x="242.4" y="228" width="22.6" height="50.6" fill="#c2c2c2" stroke="#9a9a9a" stroke-width="0.7"/>
<rect x="307.4" y="228.4" width="26" height="50.2" fill="#c2c2c2" stroke="#9a9a9a" stroke-width="0.7"/>
<rect x="316" y="228.8" width="17.1" height="49.8" fill="#d2d2d2"/>
<rect x="316" y="228.7" width="2.5" height="49.9" fill="#d9b243" stroke="#8f7530" stroke-width="0.55"/>
<rect x="322.5" y="228.7" width="2.8" height="49.9" fill="#d9b243" stroke="#8f7530" stroke-width="0.55"/>
<rect x="329.2" y="228.7" width="3" height="49.9" fill="#d9b243" stroke="#8f7530" stroke-width="0.55"/>
<line x1="225.8" y1="228.7" x2="225.8" y2="279.1" stroke="#111" stroke-width="1.1"/>
<line x1="223.2" y1="278.6" x2="225.8" y2="278.6" stroke="#111" stroke-width="0.9"/>
<text x="220.4" y="281.41" font-size="7.8" font-weight="bold" font-style="normal" text-anchor="end" fill="#000">0</text>
<line x1="224.2" y1="273.64" x2="225.8" y2="273.64" stroke="#111" stroke-width="0.8"/>
<line x1="223.2" y1="268.68" x2="225.8" y2="268.68" stroke="#111" stroke-width="0.9"/>
<text x="220.4" y="271.49" font-size="7.8" font-weight="bold" font-style="normal" text-anchor="end" fill="#000">10</text>
<line x1="224.2" y1="263.72" x2="225.8" y2="263.72" stroke="#111" stroke-width="0.8"/>
<line x1="223.2" y1="258.76" x2="225.8" y2="258.76" stroke="#111" stroke-width="0.9"/>
<text x="220.4" y="261.57" font-size="7.8" font-weight="bold" font-style="normal" text-anchor="end" fill="#000">20</text>
<line x1="224.2" y1="253.8" x2="225.8" y2="253.8" stroke="#111" stroke-width="0.8"/>
<line x1="223.2" y1="248.84" x2="225.8" y2="248.84" stroke="#111" stroke-width="0.9"/>
<text x="220.4" y="251.65" font-size="7.8" font-weight="bold" font-style="normal" text-anchor="end" fill="#000">30</text>
<line x1="224.2" y1="243.88" x2="225.8" y2="243.88" stroke="#111" stroke-width="0.8"/>
<line x1="223.2" y1="238.92" x2="225.8" y2="238.92" stroke="#111" stroke-width="0.9"/>
<text x="220.4" y="241.73" font-size="7.8" font-weight="bold" font-style="normal" text-anchor="end" fill="#000">40</text>
<line x1="224.2" y1="233.96" x2="225.8" y2="233.96" stroke="#111" stroke-width="0.8"/>
<line x1="223.2" y1="229" x2="225.8" y2="229" stroke="#111" stroke-width="0.9"/>
<text x="220.4" y="231.81" font-size="7.8" font-weight="bold" font-style="normal" text-anchor="end" fill="#000">50</text>
<line x1="225.8" y1="278.6" x2="359" y2="278.6" stroke="#111" stroke-width="1.1"/>
<line x1="231.26" y1="278.6" x2="231.26" y2="280.2" stroke="#111" stroke-width="0.7"/>
<line x1="236.78" y1="278.6" x2="236.78" y2="280.2" stroke="#111" stroke-width="0.7"/>
<line x1="242.3" y1="278.6" x2="242.3" y2="280.2" stroke="#111" stroke-width="0.7"/>
<line x1="247.82" y1="278.6" x2="247.82" y2="280.2" stroke="#111" stroke-width="0.7"/>
<line x1="253.34" y1="278.6" x2="253.34" y2="280.2" stroke="#111" stroke-width="0.7"/>
<line x1="258.86" y1="278.6" x2="258.86" y2="280.2" stroke="#111" stroke-width="0.7"/>
<line x1="264.38" y1="278.6" x2="264.38" y2="280.2" stroke="#111" stroke-width="0.7"/>
<line x1="269.9" y1="278.6" x2="269.9" y2="280.2" stroke="#111" stroke-width="0.7"/>
<line x1="275.42" y1="278.6" x2="275.42" y2="280.2" stroke="#111" stroke-width="0.7"/>
<line x1="280.94" y1="278.6" x2="280.94" y2="280.2" stroke="#111" stroke-width="0.7"/>
<line x1="286.46" y1="278.6" x2="286.46" y2="280.2" stroke="#111" stroke-width="0.7"/>
<line x1="291.98" y1="278.6" x2="291.98" y2="280.2" stroke="#111" stroke-width="0.7"/>
<line x1="297.5" y1="278.6" x2="297.5" y2="280.2" stroke="#111" stroke-width="0.7"/>
<line x1="303.02" y1="278.6" x2="303.02" y2="280.2" stroke="#111" stroke-width="0.7"/>
<line x1="308.54" y1="278.6" x2="308.54" y2="280.2" stroke="#111" stroke-width="0.7"/>
<line x1="314.06" y1="278.6" x2="314.06" y2="280.2" stroke="#111" stroke-width="0.7"/>
<line x1="319.58" y1="278.6" x2="319.58" y2="280.2" stroke="#111" stroke-width="0.7"/>
<line x1="325.1" y1="278.6" x2="325.1" y2="280.2" stroke="#111" stroke-width="0.7"/>
<line x1="330.62" y1="278.6" x2="330.62" y2="280.2" stroke="#111" stroke-width="0.7"/>
<line x1="336.14" y1="278.6" x2="336.14" y2="280.2" stroke="#111" stroke-width="0.7"/>
<line x1="341.66" y1="278.6" x2="341.66" y2="280.2" stroke="#111" stroke-width="0.7"/>
<line x1="347.18" y1="278.6" x2="347.18" y2="280.2" stroke="#111" stroke-width="0.7"/>
<line x1="352.7" y1="278.6" x2="352.7" y2="280.2" stroke="#111" stroke-width="0.7"/>
<line x1="358.22" y1="278.6" x2="358.22" y2="280.2" stroke="#111" stroke-width="0.7"/>
<polyline points="228.5,278.6 234.02,278.6 239.54,278.6 245.06,278.6 250.58,278.6 256.1,278.6 261.62,278.6 267.14,278.6 272.66,278.6 278.18,278.6 283.7,278.6 289.22,278.6 294.74,276.12 300.26,267.19 305.78,278.6 311.3,278.6 316.82,278.6 322.34,278.6 327.86,278.6 333.38,278.6 338.9,278.6 344.42,278.6 349.94,278.6 355.46,278.6" fill="none" stroke="#9a5fd0" stroke-width="0.9"/>
<circle cx="228.5" cy="278.6" r="1.3" fill="#9a5fd0"/>
<circle cx="234.02" cy="278.6" r="1.3" fill="#9a5fd0"/>
<circle cx="239.54" cy="278.6" r="1.3" fill="#9a5fd0"/>
<circle cx="245.06" cy="278.6" r="1.3" fill="#9a5fd0"/>
<circle cx="250.58" cy="278.6" r="1.3" fill="#9a5fd0"/>
<circle cx="256.1" cy="278.6" r="1.3" fill="#9a5fd0"/>
<circle cx="261.62" cy="278.6" r="1.3" fill="#9a5fd0"/>
<circle cx="267.14" cy="278.6" r="1.3" fill="#9a5fd0"/>
<circle cx="272.66" cy="278.6" r="1.3" fill="#9a5fd0"/>
<circle cx="278.18" cy="278.6" r="1.3" fill="#9a5fd0"/>
<circle cx="283.7" cy="278.6" r="1.3" fill="#9a5fd0"/>
<circle cx="289.22" cy="278.6" r="1.3" fill="#9a5fd0"/>
<circle cx="294.74" cy="276.12" r="1.3" fill="#9a5fd0"/>
<circle cx="300.26" cy="267.19" r="1.3" fill="#9a5fd0"/>
<circle cx="305.78" cy="278.6" r="1.3" fill="#9a5fd0"/>
<circle cx="311.3" cy="278.6" r="1.3" fill="#9a5fd0"/>
<circle cx="316.82" cy="278.6" r="1.3" fill="#9a5fd0"/>
<circle cx="322.34" cy="278.6" r="1.3" fill="#9a5fd0"/>
<circle cx="327.86" cy="278.6" r="1.3" fill="#9a5fd0"/>
<circle cx="333.38" cy="278.6" r="1.3" fill="#9a5fd0"/>
<circle cx="338.9" cy="278.6" r="1.3" fill="#9a5fd0"/>
<circle cx="344.42" cy="278.6" r="1.3" fill="#9a5fd0"/>
<circle cx="349.94" cy="278.6" r="1.3" fill="#9a5fd0"/>
<circle cx="355.46" cy="278.6" r="1.3" fill="#9a5fd0"/>
<polyline points="228.5,278.6 234.02,278.6 239.54,278.6 245.06,278.6 250.58,278.6 256.1,278.6 261.62,278.6 267.14,278.6 272.66,278.6 278.18,278.6 283.7,278.6 289.22,278.6 294.74,271.16 300.26,255.78 305.78,278.6 311.3,278.6 316.82,278.6 322.34,278.6 327.86,278.6 333.38,278.6 338.9,278.6 344.42,278.6 349.94,278.6 355.46,278.6" fill="none" stroke="#ff1a1a" stroke-width="0.9"/>
<circle cx="228.5" cy="278.6" r="1.4" fill="#ff1a1a"/>
<circle cx="234.02" cy="278.6" r="1.4" fill="#ff1a1a"/>
<circle cx="239.54" cy="278.6" r="1.4" fill="#ff1a1a"/>
<circle cx="245.06" cy="278.6" r="1.4" fill="#ff1a1a"/>
<circle cx="250.58" cy="278.6" r="1.4" fill="#ff1a1a"/>
<circle cx="256.1" cy="278.6" r="1.4" fill="#ff1a1a"/>
<circle cx="261.62" cy="278.6" r="1.4" fill="#ff1a1a"/>
<circle cx="267.14" cy="278.6" r="1.4" fill="#ff1a1a"/>
<circle cx="272.66" cy="278.6" r="1.4" fill="#ff1a1a"/>
<circle cx="278.18" cy="278.6" r="1.4" fill="#ff1a1a"/>
<circle cx="283.7" cy="278.6" r="1.4" fill="#ff1a1a"/>
<circle cx="289.22" cy="278.6" r="1.4" fill="#ff1a1a"/>
<circle cx="294.74" cy="271.16" r="1.4" fill="#ff1a1a"/>
<circle cx="300.26" cy="255.78" r="1.4" fill="#ff1a1a"/>
<circle cx="305.78" cy="278.6" r="1.4" fill="#ff1a1a"/>
<circle cx="311.3" cy="278.6" r="1.4" fill="#ff1a1a"/>
<circle cx="316.82" cy="278.6" r="1.4" fill="#ff1a1a"/>
<circle cx="322.34" cy="278.6" r="1.4" fill="#ff1a1a"/>
<circle cx="327.86" cy="278.6" r="1.4" fill="#ff1a1a"/>
<circle cx="333.38" cy="278.6" r="1.4" fill="#ff1a1a"/>
<circle cx="338.9" cy="278.6" r="1.4" fill="#ff1a1a"/>
<circle cx="344.42" cy="278.6" r="1.4" fill="#ff1a1a"/>
<circle cx="349.94" cy="278.6" r="1.4" fill="#ff1a1a"/>
<circle cx="355.46" cy="278.6" r="1.4" fill="#ff1a1a"/>
<polyline points="228.5,276.32 234.02,276.62 239.54,277.61 245.06,278.6 250.58,278.6 256.1,278.6 261.62,278.6 267.14,278.6 272.66,278.6 278.18,278.6 283.7,278.6 289.22,278.6 294.74,267.69 300.26,262.03 305.78,278.6 311.3,276.12 316.82,278.6 322.34,278.6 327.86,278.6 333.38,278.6 338.9,278.6 344.42,278.6 349.94,278.6 355.46,278.6" fill="none" stroke="#1a2cff" stroke-width="0.9"/>
<circle cx="228.5" cy="276.32" r="1.5" fill="#1a2cff"/>
<circle cx="234.02" cy="276.62" r="1.5" fill="#1a2cff"/>
<circle cx="239.54" cy="277.61" r="1.5" fill="#1a2cff"/>
<circle cx="245.06" cy="278.6" r="1.5" fill="#1a2cff"/>
<circle cx="250.58" cy="278.6" r="1.5" fill="#1a2cff"/>
<circle cx="256.1" cy="278.6" r="1.5" fill="#1a2cff"/>
<circle cx="261.62" cy="278.6" r="1.5" fill="#1a2cff"/>
<circle cx="267.14" cy="278.6" r="1.5" fill="#1a2cff"/>
<circle cx="272.66" cy="278.6" r="1.5" fill="#1a2cff"/>
<circle cx="278.18" cy="278.6" r="1.5" fill="#1a2cff"/>
<circle cx="283.7" cy="278.6" r="1.5" fill="#1a2cff"/>
<circle cx="289.22" cy="278.6" r="1.5" fill="#1a2cff"/>
<circle cx="294.74" cy="267.69" r="1.5" fill="#1a2cff"/>
<circle cx="300.26" cy="262.03" r="1.5" fill="#1a2cff"/>
<circle cx="305.78" cy="278.6" r="1.5" fill="#1a2cff"/>
<circle cx="311.3" cy="276.12" r="1.5" fill="#1a2cff"/>
<circle cx="316.82" cy="278.6" r="1.5" fill="#1a2cff"/>
<circle cx="322.34" cy="278.6" r="1.5" fill="#1a2cff"/>
<circle cx="327.86" cy="278.6" r="1.5" fill="#1a2cff"/>
<circle cx="333.38" cy="278.6" r="1.5" fill="#1a2cff"/>
<circle cx="338.9" cy="278.6" r="1.5" fill="#1a2cff"/>
<circle cx="344.42" cy="278.6" r="1.5" fill="#1a2cff"/>
<circle cx="349.94" cy="278.6" r="1.5" fill="#1a2cff"/>
<circle cx="355.46" cy="278.6" r="1.5" fill="#1a2cff"/>
<polyline points="228.5,277.11 234.02,277.31 239.54,277.51 245.06,278.6 250.58,278.6 256.1,278.6 261.62,278.6 267.14,278.6 272.66,278.6 278.18,278.6 283.7,278.6 289.22,278.6 294.74,274.14 300.26,270.17 305.78,278.6 311.3,278.6 316.82,278.6 322.34,278.6 327.86,278.6 333.38,278.6 338.9,278.6 344.42,278.6 349.94,278.6 355.46,278.6" fill="none" stroke="#2ec46a" stroke-width="0.9"/>
<circle cx="228.5" cy="277.11" r="1.4" fill="#2ec46a"/>
<circle cx="234.02" cy="277.31" r="1.4" fill="#2ec46a"/>
<circle cx="239.54" cy="277.51" r="1.4" fill="#2ec46a"/>
<circle cx="245.06" cy="278.6" r="1.4" fill="#2ec46a"/>
<circle cx="250.58" cy="278.6" r="1.4" fill="#2ec46a"/>
<circle cx="256.1" cy="278.6" r="1.4" fill="#2ec46a"/>
<circle cx="261.62" cy="278.6" r="1.4" fill="#2ec46a"/>
<circle cx="267.14" cy="278.6" r="1.4" fill="#2ec46a"/>
<circle cx="272.66" cy="278.6" r="1.4" fill="#2ec46a"/>
<circle cx="278.18" cy="278.6" r="1.4" fill="#2ec46a"/>
<circle cx="283.7" cy="278.6" r="1.4" fill="#2ec46a"/>
<circle cx="289.22" cy="278.6" r="1.4" fill="#2ec46a"/>
<circle cx="294.74" cy="274.14" r="1.4" fill="#2ec46a"/>
<circle cx="300.26" cy="270.17" r="1.4" fill="#2ec46a"/>
<circle cx="305.78" cy="278.6" r="1.4" fill="#2ec46a"/>
<circle cx="311.3" cy="278.6" r="1.4" fill="#2ec46a"/>
<circle cx="316.82" cy="278.6" r="1.4" fill="#2ec46a"/>
<circle cx="322.34" cy="278.6" r="1.4" fill="#2ec46a"/>
<circle cx="327.86" cy="278.6" r="1.4" fill="#2ec46a"/>
<circle cx="333.38" cy="278.6" r="1.4" fill="#2ec46a"/>
<circle cx="338.9" cy="278.6" r="1.4" fill="#2ec46a"/>
<circle cx="344.42" cy="278.6" r="1.4" fill="#2ec46a"/>
<circle cx="349.94" cy="278.6" r="1.4" fill="#2ec46a"/>
<circle cx="355.46" cy="278.6" r="1.4" fill="#2ec46a"/>
<line x1="228.5" y1="264.2" x2="228.5" y2="266.3" stroke="#2a2a2a" stroke-width="1"/>
<line x1="227" y1="264.2" x2="230" y2="264.2" stroke="#111" stroke-width="1"/>
<line x1="227" y1="266.3" x2="230" y2="266.3" stroke="#111" stroke-width="1"/>
<line x1="234.02" y1="264.2" x2="234.02" y2="266.3" stroke="#2a2a2a" stroke-width="1"/>
<line x1="232.52" y1="264.2" x2="235.52" y2="264.2" stroke="#111" stroke-width="1"/>
<line x1="232.52" y1="266.3" x2="235.52" y2="266.3" stroke="#111" stroke-width="1"/>
<line x1="239.54" y1="265.3" x2="239.54" y2="267.5" stroke="#2a2a2a" stroke-width="1"/>
<line x1="238.04" y1="265.3" x2="241.04" y2="265.3" stroke="#111" stroke-width="1"/>
<line x1="238.04" y1="267.5" x2="241.04" y2="267.5" stroke="#111" stroke-width="1"/>
<line x1="294.74" y1="252.2" x2="294.74" y2="261" stroke="#2a2a2a" stroke-width="1"/>
<line x1="293.24" y1="252.2" x2="296.24" y2="252.2" stroke="#111" stroke-width="1"/>
<line x1="293.24" y1="261" x2="296.24" y2="261" stroke="#111" stroke-width="1"/>
<line x1="300.26" y1="238.5" x2="300.26" y2="252" stroke="#2a2a2a" stroke-width="1"/>
<line x1="298.76" y1="238.5" x2="301.76" y2="238.5" stroke="#111" stroke-width="1"/>
<line x1="298.76" y1="252" x2="301.76" y2="252" stroke="#111" stroke-width="1"/>
<line x1="304.8" y1="267" x2="307.2" y2="267" stroke="#111" stroke-width="1.2"/>
<line x1="311.3" y1="264.8" x2="311.3" y2="267.5" stroke="#2a2a2a" stroke-width="1"/>
<line x1="309.3" y1="264.8" x2="313.3" y2="264.8" stroke="#111" stroke-width="1"/>
<line x1="309.3" y1="267.5" x2="313.3" y2="267.5" stroke="#111" stroke-width="1"/>
<line x1="315.3" y1="267" x2="318.5" y2="267" stroke="#111" stroke-width="1.2"/>
<line x1="321.3" y1="267" x2="324.5" y2="267" stroke="#111" stroke-width="1.2"/>
<text x="265.9" y="260.6" font-size="8.3" font-weight="bold" font-style="normal" text-anchor="start" fill="#111" textLength="14" lengthAdjust="spacingAndGlyphs">LSD</text>
<text x="282.3" y="262.8" font-size="5.9" font-weight="bold" font-style="normal" text-anchor="start" fill="#1a1a1a" textLength="12.2" lengthAdjust="spacingAndGlyphs">0.05</text>
<text transform="translate(230.2,288.9) rotate(-45)" font-size="7" font-weight="bold" font-style="normal" text-anchor="end" fill="#000" textLength="23.18" lengthAdjust="spacingAndGlyphs">Μαρ-13</text>
<text transform="translate(241.24,288.9) rotate(-45)" font-size="7" font-weight="bold" font-style="normal" text-anchor="end" fill="#000" textLength="20.93" lengthAdjust="spacingAndGlyphs">Μαϊ-13</text>
<text transform="translate(252.28,288.9) rotate(-45)" font-size="7" font-weight="bold" font-style="normal" text-anchor="end" fill="#000" textLength="22.92" lengthAdjust="spacingAndGlyphs">Ιουλ-13</text>
<text transform="translate(263.32,288.9) rotate(-45)" font-size="7" font-weight="bold" font-style="normal" text-anchor="end" fill="#000" textLength="21.69" lengthAdjust="spacingAndGlyphs">Σεπ-13</text>
<text transform="translate(274.36,288.9) rotate(-45)" font-size="7" font-weight="bold" font-style="normal" text-anchor="end" fill="#000" textLength="21.47" lengthAdjust="spacingAndGlyphs">Νοε-13</text>
<text transform="translate(285.4,288.9) rotate(-45)" font-size="7" font-weight="bold" font-style="normal" text-anchor="end" fill="#000" textLength="19.1" lengthAdjust="spacingAndGlyphs">Ιαν-14</text>
<text transform="translate(296.44,288.9) rotate(-45)" font-size="7" font-weight="bold" font-style="normal" text-anchor="end" fill="#000" textLength="23.18" lengthAdjust="spacingAndGlyphs">Μαρ-14</text>
<text transform="translate(307.48,288.9) rotate(-45)" font-size="7" font-weight="bold" font-style="normal" text-anchor="end" fill="#000" textLength="20.93" lengthAdjust="spacingAndGlyphs">Μαϊ-14</text>
<text transform="translate(318.52,288.9) rotate(-45)" font-size="7" font-weight="bold" font-style="normal" text-anchor="end" fill="#000" textLength="22.92" lengthAdjust="spacingAndGlyphs">Ιουλ-14</text>
<text transform="translate(329.56,288.9) rotate(-45)" font-size="7" font-weight="bold" font-style="normal" text-anchor="end" fill="#000" textLength="21.69" lengthAdjust="spacingAndGlyphs">Σεπ-14</text>
<text transform="translate(340.6,288.9) rotate(-45)" font-size="7" font-weight="bold" font-style="normal" text-anchor="end" fill="#000" textLength="21.47" lengthAdjust="spacingAndGlyphs">Νοε-14</text>
<text transform="translate(351.64,288.9) rotate(-45)" font-size="7" font-weight="bold" font-style="normal" text-anchor="end" fill="#000" textLength="19.1" lengthAdjust="spacingAndGlyphs">Ιαν-15</text>
<text x="428" y="223.5" font-size="9.8" font-weight="bold" font-style="italic" text-anchor="start" fill="#111" textLength="78.1" lengthAdjust="spacingAndGlyphs" stroke="#111" stroke-width="0.2">Phlomis fruticosa</text>
<text x="416.7" y="250.4" font-size="6.5" font-style="italic" fill="#1a1a1a" letter-spacing="0.380" stroke="#222" stroke-width="0.1">Phlomis</text>
<text x="451.6" y="250.4" font-size="6.5" font-style="italic" fill="#1a1a1a" letter-spacing="0.542" stroke="#222" stroke-width="0.1">fruticosa</text>
<text x="490.2" y="250.4" font-size="6.5" font-style="normal" fill="#1a1a1a" letter-spacing="0.513" stroke="#222" stroke-width="0.1">did</text>
<text x="509.6" y="250.4" font-size="6.5" font-style="normal" fill="#1a1a1a" letter-spacing="0.682" stroke="#222" stroke-width="0.1">not</text>
<text x="416.7" y="262.6" font-size="6.5" font-style="normal" fill="#1a1a1a" letter-spacing="0.632" stroke="#222" stroke-width="0.1">flower</text>
<text x="440.4" y="262.6" font-size="6.5" font-style="normal" fill="#1a1a1a" letter-spacing="0.386" stroke="#222" stroke-width="0.1">during</text>
<text x="462.4" y="262.6" font-size="6.5" font-style="normal" fill="#1a1a1a" letter-spacing="0.032" stroke="#222" stroke-width="0.1">the</text>
<text x="477.3" y="262.6" font-size="6.5" font-style="normal" fill="#1a1a1a" letter-spacing="-0.022" stroke="#222" stroke-width="0.1">course</text>
<text x="499.3" y="262.6" font-size="6.5" font-style="normal" fill="#1a1a1a" letter-spacing="1.679" stroke="#222" stroke-width="0.1">of</text>
<text x="509.6" y="262.6" font-size="6.5" font-style="normal" fill="#1a1a1a" letter-spacing="0.682" stroke="#222" stroke-width="0.1">the</text>
<text x="416.7" y="273.8" font-size="6.5" font-style="normal" fill="#1a1a1a" letter-spacing="0.416" stroke="#222" stroke-width="0.1">study</text>
<text transform="translate(17.6,166.0) rotate(-90)" font-size="11.2" font-weight="bold" font-style="normal" text-anchor="middle" fill="#111" textLength="87.5" lengthAdjust="spacingAndGlyphs" stroke="#111" stroke-width="0.25">Number of flowers</text>
<text x="285" y="321.7" font-size="12.2" font-weight="bold" font-style="normal" text-anchor="middle" fill="#111" textLength="23.8" lengthAdjust="spacingAndGlyphs" stroke="#111" stroke-width="0.3">Date</text>
</svg></body></html>
